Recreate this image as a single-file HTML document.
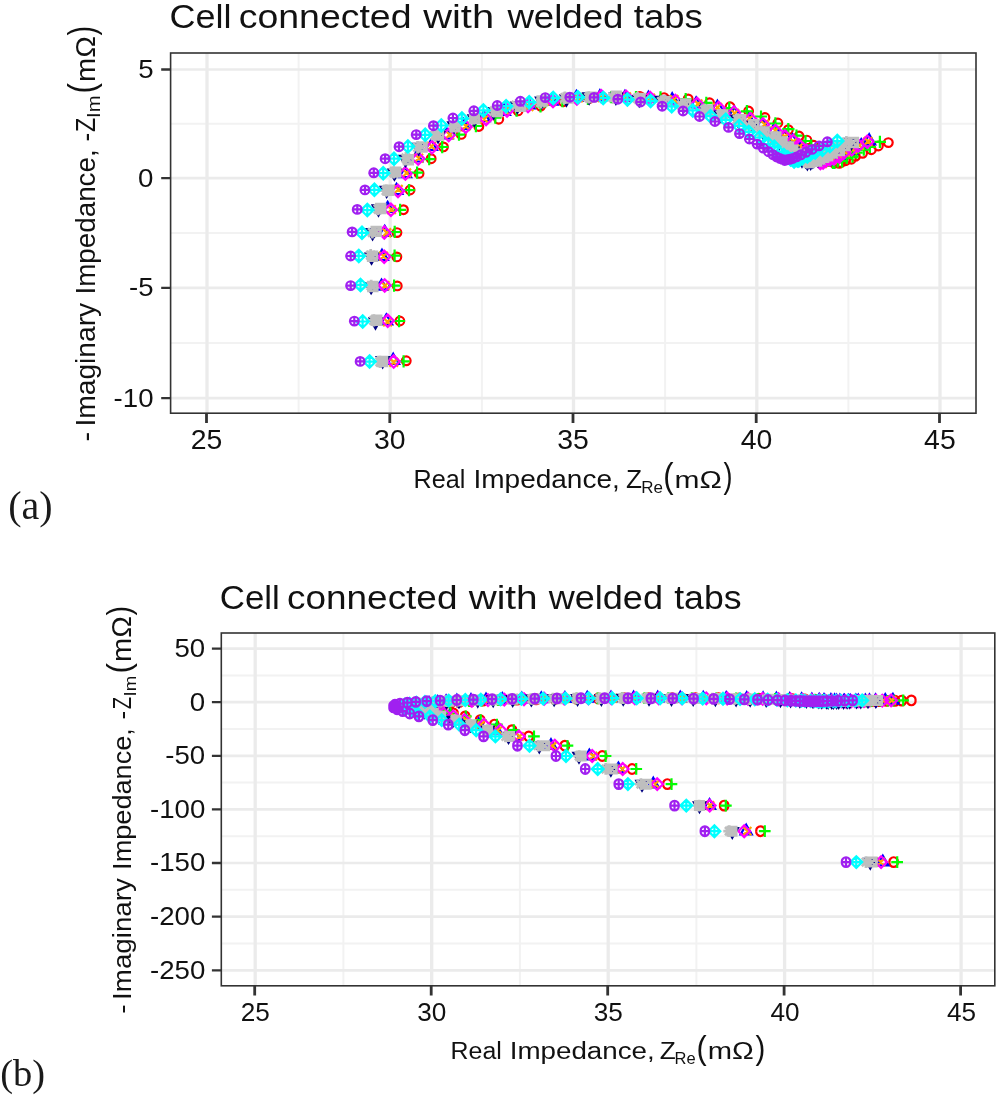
<!DOCTYPE html>
<html lang="en"><head><meta charset="utf-8"><title>Cell connected with welded tabs</title>
<style>html,body{margin:0;padding:0;background:#fff}svg{display:block}text{font-family:"Liberation Sans",sans-serif;fill:#111}text.serif{font-family:"Liberation Serif",serif;fill:#1a1a1a}</style></head><body>
<svg width="997" height="1095" viewBox="0 0 997 1095">
<rect width="997" height="1095" fill="#fff"/>
<g id="chart-a">
<rect x="170.6" y="53" width="805.4" height="360.2" fill="#fff"/>
<path d="M298.6 53V413.2M481.9 53V413.2M665.1 53V413.2M848.4 53V413.2M170.6 123.8H976M170.6 233H976M170.6 343H976" stroke="#f2f2f2" stroke-width="2" fill="none"/>
<path d="M207 53V413.2M390.2 53V413.2M573.5 53V413.2M756.8 53V413.2M940 53V413.2" stroke="#ebebeb" stroke-width="3.3" fill="none"/>
<path d="M170.6 69.5H976M170.6 178.1H976M170.6 287.8H976M170.6 398.2H976" stroke="#ebebeb" stroke-width="2.7" fill="none"/>
<path d="M401.9 360.8a4.3 4.3 0 1 0 8.7 0a4.3 4.3 0 1 0 -8.7 0M395.5 321a4.3 4.3 0 1 0 8.7 0a4.3 4.3 0 1 0 -8.7 0M392.9 285.9a4.3 4.3 0 1 0 8.7 0a4.3 4.3 0 1 0 -8.7 0M392.5 256.9a4.3 4.3 0 1 0 8.7 0a4.3 4.3 0 1 0 -8.7 0M392.6 232.6a4.3 4.3 0 1 0 8.7 0a4.3 4.3 0 1 0 -8.7 0M399.1 209.7a4.3 4.3 0 1 0 8.7 0a4.3 4.3 0 1 0 -8.7 0M405.7 190a4.3 4.3 0 1 0 8.7 0a4.3 4.3 0 1 0 -8.7 0M414.7 173.4a4.3 4.3 0 1 0 8.7 0a4.3 4.3 0 1 0 -8.7 0M426.8 158.7a4.3 4.3 0 1 0 8.7 0a4.3 4.3 0 1 0 -8.7 0M439.1 146.9a4.3 4.3 0 1 0 8.7 0a4.3 4.3 0 1 0 -8.7 0M456.9 134.4a4.3 4.3 0 1 0 8.7 0a4.3 4.3 0 1 0 -8.7 0M474.5 126.5a4.3 4.3 0 1 0 8.7 0a4.3 4.3 0 1 0 -8.7 0M494.4 119.2a4.3 4.3 0 1 0 8.7 0a4.3 4.3 0 1 0 -8.7 0M513.7 110.9a4.3 4.3 0 1 0 8.7 0a4.3 4.3 0 1 0 -8.7 0M536.3 106.1a4.3 4.3 0 1 0 8.7 0a4.3 4.3 0 1 0 -8.7 0M559 101.7a4.3 4.3 0 1 0 8.7 0a4.3 4.3 0 1 0 -8.7 0M585.6 98.2a4.3 4.3 0 1 0 8.7 0a4.3 4.3 0 1 0 -8.7 0M611.1 97.4a4.3 4.3 0 1 0 8.7 0a4.3 4.3 0 1 0 -8.7 0M635.5 96.4a4.3 4.3 0 1 0 8.7 0a4.3 4.3 0 1 0 -8.7 0M659.7 97.6a4.3 4.3 0 1 0 8.7 0a4.3 4.3 0 1 0 -8.7 0M683.8 98.9a4.3 4.3 0 1 0 8.7 0a4.3 4.3 0 1 0 -8.7 0M705.2 102.8a4.3 4.3 0 1 0 8.7 0a4.3 4.3 0 1 0 -8.7 0M725.7 106.8a4.3 4.3 0 1 0 8.7 0a4.3 4.3 0 1 0 -8.7 0M744.3 111a4.3 4.3 0 1 0 8.7 0a4.3 4.3 0 1 0 -8.7 0M760.6 117.5a4.3 4.3 0 1 0 8.7 0a4.3 4.3 0 1 0 -8.7 0M773.5 123a4.3 4.3 0 1 0 8.7 0a4.3 4.3 0 1 0 -8.7 0M784 129.7a4.3 4.3 0 1 0 8.7 0a4.3 4.3 0 1 0 -8.7 0M794.7 136a4.3 4.3 0 1 0 8.7 0a4.3 4.3 0 1 0 -8.7 0M802.5 140.1a4.3 4.3 0 1 0 8.7 0a4.3 4.3 0 1 0 -8.7 0M809.3 145.3a4.3 4.3 0 1 0 8.7 0a4.3 4.3 0 1 0 -8.7 0M814.9 148.8a4.3 4.3 0 1 0 8.7 0a4.3 4.3 0 1 0 -8.7 0M818.3 153.6a4.3 4.3 0 1 0 8.7 0a4.3 4.3 0 1 0 -8.7 0M823 156.4a4.3 4.3 0 1 0 8.7 0a4.3 4.3 0 1 0 -8.7 0M826.6 159a4.3 4.3 0 1 0 8.7 0a4.3 4.3 0 1 0 -8.7 0M827.7 161.7a4.3 4.3 0 1 0 8.7 0a4.3 4.3 0 1 0 -8.7 0M829.9 163.1a4.3 4.3 0 1 0 8.7 0a4.3 4.3 0 1 0 -8.7 0M834.9 163.3a4.3 4.3 0 1 0 8.7 0a4.3 4.3 0 1 0 -8.7 0M836.8 162.4a4.3 4.3 0 1 0 8.7 0a4.3 4.3 0 1 0 -8.7 0M841.2 160.7a4.3 4.3 0 1 0 8.7 0a4.3 4.3 0 1 0 -8.7 0M847 159.2a4.3 4.3 0 1 0 8.7 0a4.3 4.3 0 1 0 -8.7 0M851 156.4a4.3 4.3 0 1 0 8.7 0a4.3 4.3 0 1 0 -8.7 0M858.2 153.3a4.3 4.3 0 1 0 8.7 0a4.3 4.3 0 1 0 -8.7 0M866.9 149.7a4.3 4.3 0 1 0 8.7 0a4.3 4.3 0 1 0 -8.7 0M874 146a4.3 4.3 0 1 0 8.7 0a4.3 4.3 0 1 0 -8.7 0M884 142.6a4.3 4.3 0 1 0 8.7 0a4.3 4.3 0 1 0 -8.7 0" stroke="#ff0000" stroke-width="2.2" fill="none"/>
<path d="M393.2 353.8l5.9 10.1h-11.7zM386.3 314.4l5.9 10.1h-11.7zM381.5 279.6l5.9 10.1h-11.7zM382 249.7l5.9 10.1h-11.7zM384.7 225.9l5.9 10.1h-11.7zM387.6 201.9l5.9 10.1h-11.7zM396.5 183.9l5.9 10.1h-11.7zM405.2 167l5.9 10.1h-11.7zM416.4 151.4l5.9 10.1h-11.7zM431.1 139.8l5.9 10.1h-11.7zM446.7 128.4l5.9 10.1h-11.7zM463.5 118.7l5.9 10.1h-11.7zM483.8 111.1l5.9 10.1h-11.7zM504.1 104.9l5.9 10.1h-11.7zM528.6 98.3l5.9 10.1h-11.7zM551.7 94.5l5.9 10.1h-11.7zM576.4 90.9l5.9 10.1h-11.7zM599.9 90.3l5.9 10.1h-11.7zM624.9 90.9l5.9 10.1h-11.7zM648.4 91.7l5.9 10.1h-11.7zM672.2 93.3l5.9 10.1h-11.7zM696.1 97.4l5.9 10.1h-11.7zM717.4 100.7l5.9 10.1h-11.7zM734.4 106.8l5.9 10.1h-11.7zM748.2 112.2l5.9 10.1h-11.7zM762 118.3l5.9 10.1h-11.7zM774.4 123.4l5.9 10.1h-11.7zM785.1 129.7l5.9 10.1h-11.7zM792.6 134.4l5.9 10.1h-11.7zM797.6 138.8l5.9 10.1h-11.7zM804.8 142.9l5.9 10.1h-11.7zM808.6 147.2l5.9 10.1h-11.7zM810.7 149.8l5.9 10.1h-11.7zM814.1 152l5.9 10.1h-11.7zM818.3 154.3l5.9 10.1h-11.7zM818.9 155.2l5.9 10.1h-11.7zM822.9 155.6l5.9 10.1h-11.7zM824.8 154.9l5.9 10.1h-11.7zM830.7 152.7l5.9 10.1h-11.7zM833.3 150.9l5.9 10.1h-11.7zM840.5 148.8l5.9 10.1h-11.7zM844.9 146.2l5.9 10.1h-11.7zM851.2 143.9l5.9 10.1h-11.7zM861.2 139.1l5.9 10.1h-11.7zM869.2 134.3l5.9 10.1h-11.7z" stroke="#0000ff" stroke-width="2.2" fill="none"/>
<path d="M397.4 361.4h12.3M403.6 355.3v12.3M392.8 321h12.3M399 314.9v12.3M388 285.6h12.3M394.1 279.5v12.3M388.4 255.6h12.3M394.6 249.5v12.3M388.6 232h12.3M394.7 225.8v12.3M393.9 209.9h12.3M400.1 203.8v12.3M402.8 190.1h12.3M409 183.9v12.3M410.9 172.6h12.3M417.1 166.4v12.3M423 159.2h12.3M429.2 153v12.3M436 147h12.3M442.2 140.9v12.3M452.8 134.7h12.3M459 128.5v12.3M469.8 126h12.3M475.9 119.9v12.3M489.1 117.7h12.3M495.3 111.5v12.3M510.4 110.6h12.3M516.6 104.5v12.3M534.3 106.5h12.3M540.5 100.3v12.3M556.3 101.2h12.3M562.4 95v12.3M581.8 98.9h12.3M587.9 92.7v12.3M605.1 97.2h12.3M611.3 91v12.3M629.8 97.1h12.3M636 90.9v12.3M654.3 97.3h12.3M660.5 91.2v12.3M679.5 99.1h12.3M685.7 92.9v12.3M700.2 102.8h12.3M706.3 96.7v12.3M723 108h12.3M729.2 101.8v12.3M740.7 111.3h12.3M746.9 105.1v12.3M754.8 116.5h12.3M761 110.4v12.3M769.2 123.5h12.3M775.4 117.3v12.3M782.2 129.2h12.3M788.3 123.1v12.3M790.3 135.6h12.3M796.5 129.5v12.3M799.3 141h12.3M805.5 134.9v12.3M805.1 145.3h12.3M811.3 139.2v12.3M811.4 150.4h12.3M817.6 144.3v12.3M815.2 153.7h12.3M821.4 147.6v12.3M817.3 157.3h12.3M823.5 151.2v12.3M821.8 159.5h12.3M828 153.4v12.3M822.8 160.6h12.3M829 154.4v12.3M826.7 162.8h12.3M832.9 156.6v12.3M828.2 162.9h12.3M834.4 156.8v12.3M831.5 161.2h12.3M837.7 155.1v12.3M835.9 161.2h12.3M842.1 155.1v12.3M840.6 157.9h12.3M846.7 151.7v12.3M846.4 156.6h12.3M852.5 150.4v12.3M850.2 152.6h12.3M856.4 146.4v12.3M857.7 149.6h12.3M863.8 143.5v12.3M863.7 147h12.3M869.9 140.8v12.3M873.7 141.9h12.3M879.9 135.8v12.3" stroke="#00ff00" stroke-width="2.2" fill="none"/>
<path d="M389.4 357.9l8.7 8.7M389.4 366.6l8.7 -8.7M383.2 317.6l8.7 8.7M383.2 326.3l8.7 -8.7M380.7 281.2l8.7 8.7M380.7 289.9l8.7 -8.7M379.1 251.8l8.7 8.7M379.1 260.5l8.7 -8.7M382.4 228.4l8.7 8.7M382.4 237.1l8.7 -8.7M387.1 205.3l8.7 8.7M387.1 214l8.7 -8.7M393.9 185.1l8.7 8.7M393.9 193.8l8.7 -8.7M402.3 168.6l8.7 8.7M402.3 177.3l8.7 -8.7M414.3 153.8l8.7 8.7M414.3 162.5l8.7 -8.7M427.2 142l8.7 8.7M427.2 150.7l8.7 -8.7M445.3 130.4l8.7 8.7M445.3 139.1l8.7 -8.7M461.6 121.9l8.7 8.7M461.6 130.6l8.7 -8.7M480 114.7l8.7 8.7M480 123.4l8.7 -8.7M500.8 106.4l8.7 8.7M500.8 115.1l8.7 -8.7M524.6 102.2l8.7 8.7M524.6 110.9l8.7 -8.7M547.2 96.9l8.7 8.7M547.2 105.6l8.7 -8.7M574 93.5l8.7 8.7M574 102.2l8.7 -8.7M597.5 93.2l8.7 8.7M597.5 101.9l8.7 -8.7M622.2 92.5l8.7 8.7M622.2 101.2l8.7 -8.7M646.2 93.7l8.7 8.7M646.2 102.4l8.7 -8.7M669.7 95.1l8.7 8.7M669.7 103.8l8.7 -8.7M693.6 99.5l8.7 8.7M693.6 108.2l8.7 -8.7M713.2 103l8.7 8.7M713.2 111.7l8.7 -8.7M730.3 109l8.7 8.7M730.3 117.7l8.7 -8.7M745.2 114.2l8.7 8.7M745.2 122.9l8.7 -8.7M760.3 120l8.7 8.7M760.3 128.7l8.7 -8.7M770.9 126.3l8.7 8.7M770.9 135l8.7 -8.7M780.6 132.4l8.7 8.7M780.6 141.1l8.7 -8.7M788.9 137.3l8.7 8.7M788.9 146l8.7 -8.7M795.2 142.2l8.7 8.7M795.2 150.9l8.7 -8.7M800.9 146.2l8.7 8.7M800.9 154.9l8.7 -8.7M805.9 149.5l8.7 8.7M805.9 158.2l8.7 -8.7M809.9 152.4l8.7 8.7M809.9 161.1l8.7 -8.7M812.8 154.3l8.7 8.7M812.8 163l8.7 -8.7M814.4 156.9l8.7 8.7M814.4 165.6l8.7 -8.7M818.1 159.2l8.7 8.7M818.1 167.9l8.7 -8.7M820.4 157.3l8.7 8.7M820.4 166l8.7 -8.7M822 156.2l8.7 8.7M822 164.9l8.7 -8.7M827.8 155.5l8.7 8.7M827.8 164.2l8.7 -8.7M831.6 153.3l8.7 8.7M831.6 162l8.7 -8.7M834.8 151.5l8.7 8.7M834.8 160.2l8.7 -8.7M841.2 148.1l8.7 8.7M841.2 156.8l8.7 -8.7M848.3 144.9l8.7 8.7M848.3 153.6l8.7 -8.7M855 141.1l8.7 8.7M855 149.8l8.7 -8.7M863.7 137.1l8.7 8.7M863.7 145.8l8.7 -8.7" stroke="#ffa500" stroke-width="2.2" fill="none"/>
<path d="M387.5 361.6l6.2 -6.2l6.2 6.2l-6.2 6.2zM381.5 320.8l6.2 -6.2l6.2 6.2l-6.2 6.2zM378.5 285.4l6.2 -6.2l6.2 6.2l-6.2 6.2zM378 256.8l6.2 -6.2l6.2 6.2l-6.2 6.2zM378.1 232.5l6.2 -6.2l6.2 6.2l-6.2 6.2zM384.7 209.8l6.2 -6.2l6.2 6.2l-6.2 6.2zM391.8 190.9l6.2 -6.2l6.2 6.2l-6.2 6.2zM399.2 173.4l6.2 -6.2l6.2 6.2l-6.2 6.2zM412 158.6l6.2 -6.2l6.2 6.2l-6.2 6.2zM425.8 147.3l6.2 -6.2l6.2 6.2l-6.2 6.2zM442.5 135l6.2 -6.2l6.2 6.2l-6.2 6.2zM459.5 126.7l6.2 -6.2l6.2 6.2l-6.2 6.2zM479.9 118.9l6.2 -6.2l6.2 6.2l-6.2 6.2zM500.9 110.4l6.2 -6.2l6.2 6.2l-6.2 6.2zM521.8 106l6.2 -6.2l6.2 6.2l-6.2 6.2zM546.8 101l6.2 -6.2l6.2 6.2l-6.2 6.2zM570.7 98.5l6.2 -6.2l6.2 6.2l-6.2 6.2zM595.1 96.3l6.2 -6.2l6.2 6.2l-6.2 6.2zM619.8 96.7l6.2 -6.2l6.2 6.2l-6.2 6.2zM643.9 98l6.2 -6.2l6.2 6.2l-6.2 6.2zM669.2 101l6.2 -6.2l6.2 6.2l-6.2 6.2zM691 103.9l6.2 -6.2l6.2 6.2l-6.2 6.2zM712.5 107.9l6.2 -6.2l6.2 6.2l-6.2 6.2zM727.8 112.5l6.2 -6.2l6.2 6.2l-6.2 6.2zM744.2 119.2l6.2 -6.2l6.2 6.2l-6.2 6.2zM756.8 124.4l6.2 -6.2l6.2 6.2l-6.2 6.2zM769.3 131.1l6.2 -6.2l6.2 6.2l-6.2 6.2zM778.7 136.6l6.2 -6.2l6.2 6.2l-6.2 6.2zM787.1 140.9l6.2 -6.2l6.2 6.2l-6.2 6.2zM792.8 145.3l6.2 -6.2l6.2 6.2l-6.2 6.2zM800 150.8l6.2 -6.2l6.2 6.2l-6.2 6.2zM804.5 153.5l6.2 -6.2l6.2 6.2l-6.2 6.2zM807.9 157.4l6.2 -6.2l6.2 6.2l-6.2 6.2zM809.6 159.5l6.2 -6.2l6.2 6.2l-6.2 6.2zM813.7 160.8l6.2 -6.2l6.2 6.2l-6.2 6.2zM814.2 163l6.2 -6.2l6.2 6.2l-6.2 6.2zM816.9 162.6l6.2 -6.2l6.2 6.2l-6.2 6.2zM819.7 160.6l6.2 -6.2l6.2 6.2l-6.2 6.2zM823.8 159.3l6.2 -6.2l6.2 6.2l-6.2 6.2zM827.7 158.6l6.2 -6.2l6.2 6.2l-6.2 6.2zM833 156.4l6.2 -6.2l6.2 6.2l-6.2 6.2zM838 152.3l6.2 -6.2l6.2 6.2l-6.2 6.2zM845.5 149.3l6.2 -6.2l6.2 6.2l-6.2 6.2zM852 145.4l6.2 -6.2l6.2 6.2l-6.2 6.2zM861.1 141.7l6.2 -6.2l6.2 6.2l-6.2 6.2z" stroke="#ff00ff" stroke-width="2.2" fill="none"/>
<path d="M382.7 367.3l5.9 -10.1h-11.7zM375.5 328.5l5.9 -10.1h-11.7zM371.1 293.1l5.9 -10.1h-11.7zM371.5 263.6l5.9 -10.1h-11.7zM372.6 239.2l5.9 -10.1h-11.7zM378.5 215.5l5.9 -10.1h-11.7zM386.6 196.9l5.9 -10.1h-11.7zM394.4 179.6l5.9 -10.1h-11.7zM405.6 165.9l5.9 -10.1h-11.7zM418.7 154l5.9 -10.1h-11.7zM438.1 142.3l5.9 -10.1h-11.7zM454.1 132.4l5.9 -10.1h-11.7zM474.4 125.5l5.9 -10.1h-11.7zM493.7 118.2l5.9 -10.1h-11.7zM517.4 112.6l5.9 -10.1h-11.7zM541.8 107.8l5.9 -10.1h-11.7zM566.5 105.5l5.9 -10.1h-11.7zM589.2 103.5l5.9 -10.1h-11.7zM615.9 103.8l5.9 -10.1h-11.7zM639.2 106.1l5.9 -10.1h-11.7zM661.8 106.9l5.9 -10.1h-11.7zM684.8 110.9l5.9 -10.1h-11.7zM706.4 116.4l5.9 -10.1h-11.7zM721 121.7l5.9 -10.1h-11.7zM737.6 125.9l5.9 -10.1h-11.7zM752.5 131.9l5.9 -10.1h-11.7zM762.9 138l5.9 -10.1h-11.7zM772.5 144l5.9 -10.1h-11.7zM779.3 148.7l5.9 -10.1h-11.7zM786.2 152.6l5.9 -10.1h-11.7zM792.4 157.8l5.9 -10.1h-11.7zM795.4 161.4l5.9 -10.1h-11.7zM800.3 163.4l5.9 -10.1h-11.7zM802 166.5l5.9 -10.1h-11.7zM805.6 167l5.9 -10.1h-11.7zM807.4 169.3l5.9 -10.1h-11.7zM810.7 168.7l5.9 -10.1h-11.7zM812.9 167.3l5.9 -10.1h-11.7zM818 166l5.9 -10.1h-11.7zM821.6 164.5l5.9 -10.1h-11.7zM824.4 162.7l5.9 -10.1h-11.7zM831.5 159.2l5.9 -10.1h-11.7zM835.9 157.3l5.9 -10.1h-11.7zM843.4 152.5l5.9 -10.1h-11.7zM851.4 149l5.9 -10.1h-11.7z" stroke="#000080" stroke-width="2.2" fill="none"/>
<path d="M378.2 357.2h8.7v8.7h-8.7zl8.7 8.7M378.2 365.9l8.7 -8.7M372.4 315.9h8.7v8.7h-8.7zl8.7 8.7M372.4 324.6l8.7 -8.7M368.5 282.1h8.7v8.7h-8.7zl8.7 8.7M368.5 290.8l8.7 -8.7M368.2 251.9h8.7v8.7h-8.7zl8.7 8.7M368.2 260.6l8.7 -8.7M371.8 227h8.7v8.7h-8.7zl8.7 8.7M371.8 235.7l8.7 -8.7M376.4 204.2h8.7v8.7h-8.7zl8.7 8.7M376.4 212.9l8.7 -8.7M384.5 185.9h8.7v8.7h-8.7zl8.7 8.7M384.5 194.6l8.7 -8.7M391.3 167.8h8.7v8.7h-8.7zl8.7 8.7M391.3 176.5l8.7 -8.7M404 155.4h8.7v8.7h-8.7zl8.7 8.7M404 164.1l8.7 -8.7M417.7 142.7h8.7v8.7h-8.7zl8.7 8.7M417.7 151.4l8.7 -8.7M434.1 130.8h8.7v8.7h-8.7zl8.7 8.7M434.1 139.5l8.7 -8.7M450.7 122.4h8.7v8.7h-8.7zl8.7 8.7M450.7 131.1l8.7 -8.7M470.3 114.2h8.7v8.7h-8.7zl8.7 8.7M470.3 122.9l8.7 -8.7M492.9 107.3h8.7v8.7h-8.7zl8.7 8.7M492.9 116l8.7 -8.7M516.3 102h8.7v8.7h-8.7zl8.7 8.7M516.3 110.7l8.7 -8.7M537.7 96.7h8.7v8.7h-8.7zl8.7 8.7M537.7 105.4l8.7 -8.7M563.7 93.7h8.7v8.7h-8.7zl8.7 8.7M563.7 102.4l8.7 -8.7M586.7 92.8h8.7v8.7h-8.7zl8.7 8.7M586.7 101.5l8.7 -8.7M612 91.9h8.7v8.7h-8.7zl8.7 8.7M612 100.6l8.7 -8.7M635.7 94.2h8.7v8.7h-8.7zl8.7 8.7M635.7 102.9l8.7 -8.7M660.6 97.3h8.7v8.7h-8.7zl8.7 8.7M660.6 106l8.7 -8.7M681.3 99.7h8.7v8.7h-8.7zl8.7 8.7M681.3 108.4l8.7 -8.7M703.4 105.5h8.7v8.7h-8.7zl8.7 8.7M703.4 114.2l8.7 -8.7M718.4 110.6h8.7v8.7h-8.7zl8.7 8.7M718.4 119.3l8.7 -8.7M736.3 115.4h8.7v8.7h-8.7zl8.7 8.7M736.3 124.1l8.7 -8.7M749.6 120.3h8.7v8.7h-8.7zl8.7 8.7M749.6 129l8.7 -8.7M759.8 127.6h8.7v8.7h-8.7zl8.7 8.7M759.8 136.3l8.7 -8.7M771.5 132.6h8.7v8.7h-8.7zl8.7 8.7M771.5 141.3l8.7 -8.7M777.6 137.6h8.7v8.7h-8.7zl8.7 8.7M777.6 146.3l8.7 -8.7M784.1 142.5h8.7v8.7h-8.7zl8.7 8.7M784.1 151.2l8.7 -8.7M788.4 145.8h8.7v8.7h-8.7zl8.7 8.7M788.4 154.5l8.7 -8.7M795.1 149.5h8.7v8.7h-8.7zl8.7 8.7M795.1 158.2l8.7 -8.7M798.7 153.5h8.7v8.7h-8.7zl8.7 8.7M798.7 162.2l8.7 -8.7M800 154.8h8.7v8.7h-8.7zl8.7 8.7M800 163.5l8.7 -8.7M804.4 155.3h8.7v8.7h-8.7zl8.7 8.7M804.4 164l8.7 -8.7M805.1 158.2h8.7v8.7h-8.7zl8.7 8.7M805.1 166.9l8.7 -8.7M808 156.9h8.7v8.7h-8.7zl8.7 8.7M808 165.6l8.7 -8.7M812.3 156.8h8.7v8.7h-8.7zl8.7 8.7M812.3 165.5l8.7 -8.7M815.4 154.8h8.7v8.7h-8.7zl8.7 8.7M815.4 163.5l8.7 -8.7M819.3 153h8.7v8.7h-8.7zl8.7 8.7M819.3 161.7l8.7 -8.7M823.2 151.5h8.7v8.7h-8.7zl8.7 8.7M823.2 160.2l8.7 -8.7M827.8 148.7h8.7v8.7h-8.7zl8.7 8.7M827.8 157.4l8.7 -8.7M835 146.1h8.7v8.7h-8.7zl8.7 8.7M835 154.8l8.7 -8.7M840.6 141.3h8.7v8.7h-8.7zl8.7 8.7M840.6 150l8.7 -8.7M849 138.2h8.7v8.7h-8.7zl8.7 8.7M849 146.9l8.7 -8.7" stroke="#bebebe" stroke-width="2.7" fill="none"/>
<path d="M375.7 357.5l8.7 8.7M375.7 366.2l8.7 -8.7M373.9 361.8h12.3M380 355.7v12.3M369.5 316.1l8.7 8.7M369.5 324.8l8.7 -8.7M367.7 320.4h12.3M373.9 314.3v12.3M366.9 281.6l8.7 8.7M366.9 290.3l8.7 -8.7M365.1 285.9h12.3M371.2 279.8v12.3M366.3 250.9l8.7 8.7M366.3 259.6l8.7 -8.7M364.5 255.2h12.3M370.7 249.1v12.3M368 228.1l8.7 8.7M368 236.8l8.7 -8.7M366.2 232.5h12.3M372.4 226.3v12.3M373.8 204.8l8.7 8.7M373.8 213.5l8.7 -8.7M372 209.2h12.3M378.2 203v12.3M381.9 186.3l8.7 8.7M381.9 195l8.7 -8.7M380.1 190.7h12.3M386.3 184.5v12.3M389.3 168l8.7 8.7M389.3 176.7l8.7 -8.7M387.5 172.3h12.3M393.7 166.2v12.3M401.6 153.8l8.7 8.7M401.6 162.5l8.7 -8.7M399.8 158.2h12.3M405.9 152v12.3M413.4 142.9l8.7 8.7M413.4 151.6l8.7 -8.7M411.6 147.2h12.3M417.7 141.1v12.3M430.7 131l8.7 8.7M430.7 139.7l8.7 -8.7M428.9 135.4h12.3M435.1 129.2v12.3M450.1 121.4l8.7 8.7M450.1 130.1l8.7 -8.7M448.3 125.7h12.3M454.4 119.6v12.3M469.3 114.1l8.7 8.7M469.3 122.8l8.7 -8.7M467.5 118.4h12.3M473.7 112.3v12.3M490 106.7l8.7 8.7M490 115.4l8.7 -8.7M488.2 111.1h12.3M494.3 104.9v12.3M511.8 100.9l8.7 8.7M511.8 109.6l8.7 -8.7M510 105.3h12.3M516.1 99.1v12.3M536.6 98l8.7 8.7M536.6 106.7l8.7 -8.7M534.8 102.3h12.3M540.9 96.2v12.3M560.5 93.4l8.7 8.7M560.5 102.1l8.7 -8.7M558.7 97.7h12.3M564.9 91.6v12.3M584.4 93l8.7 8.7M584.4 101.7l8.7 -8.7M582.6 97.4h12.3M588.8 91.2v12.3M608.7 93.2l8.7 8.7M608.7 101.9l8.7 -8.7M606.9 97.6h12.3M613.1 91.4v12.3M633.1 93.9l8.7 8.7M633.1 102.6l8.7 -8.7M631.3 98.3h12.3M637.5 92.1v12.3M657.2 97.1l8.7 8.7M657.2 105.8l8.7 -8.7M655.4 101.5h12.3M661.5 95.3v12.3M677.4 100.8l8.7 8.7M677.4 109.5l8.7 -8.7M675.6 105.1h12.3M681.8 99v12.3M700.3 105.5l8.7 8.7M700.3 114.2l8.7 -8.7M698.5 109.8h12.3M704.7 103.7v12.3M716.2 110.6l8.7 8.7M716.2 119.3l8.7 -8.7M714.4 115h12.3M720.5 108.8v12.3M733 115.1l8.7 8.7M733 123.8l8.7 -8.7M731.2 119.5h12.3M737.4 113.3v12.3M744.9 121.9l8.7 8.7M744.9 130.6l8.7 -8.7M743.1 126.3h12.3M749.2 120.1v12.3M756.9 127.4l8.7 8.7M756.9 136.1l8.7 -8.7M755.1 131.7h12.3M761.3 125.6v12.3M767.6 133.8l8.7 8.7M767.6 142.5l8.7 -8.7M765.8 138.1h12.3M772 132v12.3M774.3 137.8l8.7 8.7M774.3 146.5l8.7 -8.7M772.5 142.2h12.3M778.6 136v12.3M781.3 142.7l8.7 8.7M781.3 151.4l8.7 -8.7M779.5 147.1h12.3M785.6 140.9v12.3M786.1 145.6l8.7 8.7M786.1 154.3l8.7 -8.7M784.3 149.9h12.3M790.5 143.8v12.3M790.5 149.7l8.7 8.7M790.5 158.4l8.7 -8.7M788.7 154.1h12.3M794.8 147.9v12.3M794.2 152.8l8.7 8.7M794.2 161.5l8.7 -8.7M792.4 157.2h12.3M798.5 151v12.3M798.5 153.8l8.7 8.7M798.5 162.5l8.7 -8.7M796.7 158.1h12.3M802.9 152v12.3M799.8 156.5l8.7 8.7M799.8 165.2l8.7 -8.7M798 160.9h12.3M804.2 154.7v12.3M803 158.1l8.7 8.7M803 166.8l8.7 -8.7M801.2 162.5h12.3M807.3 156.3v12.3M803.7 156l8.7 8.7M803.7 164.7l8.7 -8.7M801.9 160.3h12.3M808.1 154.2v12.3M807.6 155.5l8.7 8.7M807.6 164.2l8.7 -8.7M805.8 159.9h12.3M811.9 153.7v12.3M810.6 154.4l8.7 8.7M810.6 163.1l8.7 -8.7M808.8 158.8h12.3M815 152.6v12.3M814.3 153.9l8.7 8.7M814.3 162.6l8.7 -8.7M812.5 158.3h12.3M818.7 152.1v12.3M817.2 151l8.7 8.7M817.2 159.7l8.7 -8.7M815.4 155.3h12.3M821.6 149.2v12.3M823.6 147.7l8.7 8.7M823.6 156.4l8.7 -8.7M821.8 152h12.3M828 145.9v12.3M827.8 145.1l8.7 8.7M827.8 153.8l8.7 -8.7M826 149.4h12.3M832.1 143.3v12.3M835 141.7l8.7 8.7M835 150.4l8.7 -8.7M833.2 146h12.3M839.4 139.9v12.3M842.1 137.8l8.7 8.7M842.1 146.5l8.7 -8.7M840.3 142.2h12.3M846.4 136v12.3" stroke="#bebebe" stroke-width="2.7" fill="none"/>
<path d="M363.4 361.6l6.2 -6.2l6.2 6.2l-6.2 6.2zh12.3M369.6 355.4v12.3M356.5 321.5l6.2 -6.2l6.2 6.2l-6.2 6.2zh12.3M362.6 315.4v12.3M354.3 284.9l6.2 -6.2l6.2 6.2l-6.2 6.2zh12.3M360.5 278.8v12.3M352.6 255.9l6.2 -6.2l6.2 6.2l-6.2 6.2zh12.3M358.7 249.8v12.3M355.8 232.8l6.2 -6.2l6.2 6.2l-6.2 6.2zh12.3M362 226.6v12.3M361.1 210.1l6.2 -6.2l6.2 6.2l-6.2 6.2zh12.3M367.3 203.9v12.3M368.2 189.8l6.2 -6.2l6.2 6.2l-6.2 6.2zh12.3M374.3 183.7v12.3M377 173.2l6.2 -6.2l6.2 6.2l-6.2 6.2zh12.3M383.2 167v12.3M387.8 158.7l6.2 -6.2l6.2 6.2l-6.2 6.2zh12.3M394 152.5v12.3M401.7 146.5l6.2 -6.2l6.2 6.2l-6.2 6.2zh12.3M407.9 140.3v12.3M419 134.8l6.2 -6.2l6.2 6.2l-6.2 6.2zh12.3M425.1 128.7v12.3M435.1 125.5l6.2 -6.2l6.2 6.2l-6.2 6.2zh12.3M441.2 119.4v12.3M455.7 118.6l6.2 -6.2l6.2 6.2l-6.2 6.2zh12.3M461.8 112.4v12.3M477.2 110.4l6.2 -6.2l6.2 6.2l-6.2 6.2zh12.3M483.4 104.2v12.3M499.9 106.2l6.2 -6.2l6.2 6.2l-6.2 6.2zh12.3M506 100v12.3M523 102.2l6.2 -6.2l6.2 6.2l-6.2 6.2zh12.3M529.1 96v12.3M547 97.9l6.2 -6.2l6.2 6.2l-6.2 6.2zh12.3M553.1 91.7v12.3M571.6 97.3l6.2 -6.2l6.2 6.2l-6.2 6.2zh12.3M577.7 91.1v12.3M597 98l6.2 -6.2l6.2 6.2l-6.2 6.2zh12.3M603.1 91.9v12.3M621.2 99.6l6.2 -6.2l6.2 6.2l-6.2 6.2zh12.3M627.4 93.4v12.3M644.4 101.1l6.2 -6.2l6.2 6.2l-6.2 6.2zh12.3M650.5 94.9v12.3M665.5 106.3l6.2 -6.2l6.2 6.2l-6.2 6.2zh12.3M671.7 100.2v12.3M686.6 110.4l6.2 -6.2l6.2 6.2l-6.2 6.2zh12.3M692.7 104.3v12.3M704.3 116.2l6.2 -6.2l6.2 6.2l-6.2 6.2zh12.3M710.5 110v12.3M719.6 119.8l6.2 -6.2l6.2 6.2l-6.2 6.2zh12.3M725.7 113.6v12.3M732.9 126l6.2 -6.2l6.2 6.2l-6.2 6.2zh12.3M739 119.9v12.3M742.6 131.9l6.2 -6.2l6.2 6.2l-6.2 6.2zh12.3M748.7 125.8v12.3M753.3 137.5l6.2 -6.2l6.2 6.2l-6.2 6.2zh12.3M759.5 131.3v12.3M762.2 144l6.2 -6.2l6.2 6.2l-6.2 6.2zh12.3M768.4 137.8v12.3M768.1 146.7l6.2 -6.2l6.2 6.2l-6.2 6.2zh12.3M774.3 140.6v12.3M771.5 151.5l6.2 -6.2l6.2 6.2l-6.2 6.2zh12.3M777.6 145.3v12.3M777.6 155l6.2 -6.2l6.2 6.2l-6.2 6.2zh12.3M783.8 148.9v12.3M781.6 157.4l6.2 -6.2l6.2 6.2l-6.2 6.2zh12.3M787.8 151.3v12.3M784.5 159.4l6.2 -6.2l6.2 6.2l-6.2 6.2zh12.3M790.7 153.2v12.3M786.4 159.1l6.2 -6.2l6.2 6.2l-6.2 6.2zh12.3M792.5 152.9v12.3M787.9 161.6l6.2 -6.2l6.2 6.2l-6.2 6.2zh12.3M794 155.4v12.3M791.1 160.6l6.2 -6.2l6.2 6.2l-6.2 6.2zh12.3M797.2 154.5v12.3M792.6 160.4l6.2 -6.2l6.2 6.2l-6.2 6.2zh12.3M798.8 154.2v12.3M796.1 158.2l6.2 -6.2l6.2 6.2l-6.2 6.2zh12.3M802.3 152v12.3M801.1 156.6l6.2 -6.2l6.2 6.2l-6.2 6.2zh12.3M807.3 150.4v12.3M804.1 154.6l6.2 -6.2l6.2 6.2l-6.2 6.2zh12.3M810.2 148.5v12.3M809 152.5l6.2 -6.2l6.2 6.2l-6.2 6.2zh12.3M815.1 146.3v12.3M816.2 149.7l6.2 -6.2l6.2 6.2l-6.2 6.2zh12.3M822.4 143.6v12.3M823.7 145.9l6.2 -6.2l6.2 6.2l-6.2 6.2zh12.3M829.9 139.7v12.3M831.1 141.1l6.2 -6.2l6.2 6.2l-6.2 6.2zh12.3M837.3 135v12.3" stroke="#00ffff" stroke-width="2.2" fill="none"/>
<path d="M355.8 361.4a4.3 4.3 0 1 0 8.7 0a4.3 4.3 0 1 0 -8.7 0h8.7M360.2 357v8.7M350 321.1a4.3 4.3 0 1 0 8.7 0a4.3 4.3 0 1 0 -8.7 0h8.7M354.3 316.7v8.7M346.3 285.6a4.3 4.3 0 1 0 8.7 0a4.3 4.3 0 1 0 -8.7 0h8.7M350.7 281.2v8.7M346.3 256a4.3 4.3 0 1 0 8.7 0a4.3 4.3 0 1 0 -8.7 0h8.7M350.7 251.7v8.7M347.8 231.9a4.3 4.3 0 1 0 8.7 0a4.3 4.3 0 1 0 -8.7 0h8.7M352.1 227.6v8.7M352.9 209.4a4.3 4.3 0 1 0 8.7 0a4.3 4.3 0 1 0 -8.7 0h8.7M357.3 205v8.7M360.6 189.9a4.3 4.3 0 1 0 8.7 0a4.3 4.3 0 1 0 -8.7 0h8.7M365 185.5v8.7M369.4 172.8a4.3 4.3 0 1 0 8.7 0a4.3 4.3 0 1 0 -8.7 0h8.7M373.8 168.4v8.7M380.8 158.7a4.3 4.3 0 1 0 8.7 0a4.3 4.3 0 1 0 -8.7 0h8.7M385.1 154.4v8.7M394.7 146.7a4.3 4.3 0 1 0 8.7 0a4.3 4.3 0 1 0 -8.7 0h8.7M399 142.3v8.7M411.9 134.6a4.3 4.3 0 1 0 8.7 0a4.3 4.3 0 1 0 -8.7 0h8.7M416.3 130.3v8.7M429.1 125.7a4.3 4.3 0 1 0 8.7 0a4.3 4.3 0 1 0 -8.7 0h8.7M433.5 121.3v8.7M448.6 118a4.3 4.3 0 1 0 8.7 0a4.3 4.3 0 1 0 -8.7 0h8.7M452.9 113.6v8.7M469.5 110.8a4.3 4.3 0 1 0 8.7 0a4.3 4.3 0 1 0 -8.7 0h8.7M473.8 106.4v8.7M492.9 105.5a4.3 4.3 0 1 0 8.7 0a4.3 4.3 0 1 0 -8.7 0h8.7M497.3 101.2v8.7M516 101.3a4.3 4.3 0 1 0 8.7 0a4.3 4.3 0 1 0 -8.7 0h8.7M520.4 97v8.7M540.9 97.6a4.3 4.3 0 1 0 8.7 0a4.3 4.3 0 1 0 -8.7 0h8.7M545.3 93.3v8.7M565.5 97.2a4.3 4.3 0 1 0 8.7 0a4.3 4.3 0 1 0 -8.7 0h8.7M569.8 92.8v8.7M589.7 97.4a4.3 4.3 0 1 0 8.7 0a4.3 4.3 0 1 0 -8.7 0h8.7M594 93.1v8.7M613.5 99.2a4.3 4.3 0 1 0 8.7 0a4.3 4.3 0 1 0 -8.7 0h8.7M617.8 94.8v8.7M636.2 102a4.3 4.3 0 1 0 8.7 0a4.3 4.3 0 1 0 -8.7 0h8.7M640.6 97.7v8.7M657.8 106.2a4.3 4.3 0 1 0 8.7 0a4.3 4.3 0 1 0 -8.7 0h8.7M662.2 101.8v8.7M678.7 111a4.3 4.3 0 1 0 8.7 0a4.3 4.3 0 1 0 -8.7 0h8.7M683.1 106.6v8.7M695.2 116.5a4.3 4.3 0 1 0 8.7 0a4.3 4.3 0 1 0 -8.7 0h8.7M699.6 112.1v8.7M710.6 121.5a4.3 4.3 0 1 0 8.7 0a4.3 4.3 0 1 0 -8.7 0h8.7M715 117.2v8.7M724.2 127.4a4.3 4.3 0 1 0 8.7 0a4.3 4.3 0 1 0 -8.7 0h8.7M728.5 123.1v8.7M735.2 133.6a4.3 4.3 0 1 0 8.7 0a4.3 4.3 0 1 0 -8.7 0h8.7M739.5 129.2v8.7M745.1 139a4.3 4.3 0 1 0 8.7 0a4.3 4.3 0 1 0 -8.7 0h8.7M749.4 134.7v8.7M752.8 144.1a4.3 4.3 0 1 0 8.7 0a4.3 4.3 0 1 0 -8.7 0h8.7M757.1 139.7v8.7M758.9 148.1a4.3 4.3 0 1 0 8.7 0a4.3 4.3 0 1 0 -8.7 0h8.7M763.3 143.8v8.7M764.2 151.7a4.3 4.3 0 1 0 8.7 0a4.3 4.3 0 1 0 -8.7 0h8.7M768.5 147.3v8.7M768.6 154.7a4.3 4.3 0 1 0 8.7 0a4.3 4.3 0 1 0 -8.7 0h8.7M772.9 150.3v8.7M772.3 157a4.3 4.3 0 1 0 8.7 0a4.3 4.3 0 1 0 -8.7 0h8.7M776.7 152.7v8.7M775.5 158.5a4.3 4.3 0 1 0 8.7 0a4.3 4.3 0 1 0 -8.7 0h8.7M779.8 154.2v8.7M778.2 159.4a4.3 4.3 0 1 0 8.7 0a4.3 4.3 0 1 0 -8.7 0h8.7M782.5 155v8.7M780.4 160.5a4.3 4.3 0 1 0 8.7 0a4.3 4.3 0 1 0 -8.7 0h8.7M784.8 156.2v8.7M782.7 159.7a4.3 4.3 0 1 0 8.7 0a4.3 4.3 0 1 0 -8.7 0h8.7M787.1 155.4v8.7M785.4 159.3a4.3 4.3 0 1 0 8.7 0a4.3 4.3 0 1 0 -8.7 0h8.7M789.7 155v8.7M788.5 158.5a4.3 4.3 0 1 0 8.7 0a4.3 4.3 0 1 0 -8.7 0h8.7M792.9 154.2v8.7M792.2 156.9a4.3 4.3 0 1 0 8.7 0a4.3 4.3 0 1 0 -8.7 0h8.7M796.5 152.6v8.7M796.5 154.8a4.3 4.3 0 1 0 8.7 0a4.3 4.3 0 1 0 -8.7 0h8.7M800.8 150.5v8.7M801.6 152.3a4.3 4.3 0 1 0 8.7 0a4.3 4.3 0 1 0 -8.7 0h8.7M806 148v8.7M807.7 149.4a4.3 4.3 0 1 0 8.7 0a4.3 4.3 0 1 0 -8.7 0h8.7M812 145v8.7M814.7 145.9a4.3 4.3 0 1 0 8.7 0a4.3 4.3 0 1 0 -8.7 0h8.7M819.1 141.5v8.7M823 141.8a4.3 4.3 0 1 0 8.7 0a4.3 4.3 0 1 0 -8.7 0h8.7M827.4 137.5v8.7" stroke="#a020f0" stroke-width="2.2" fill="none"/>
<rect x="170.6" y="53" width="805.4" height="360.2" fill="none" stroke="#333" stroke-width="1.6"/>
<path d="M206.5 413.2v9.8M389.8 413.2v9.8M573 413.2v9.8M756.2 413.2v9.8M939.5 413.2v9.8" stroke="#333" stroke-width="2.8" fill="none"/>
<path d="M170.6 69.5h-9.4M170.6 178.1h-9.4M170.6 287.8h-9.4M170.6 398.2h-9.4" stroke="#333" stroke-width="2.3" fill="none"/>
<text><tspan x="169.6" y="27.7" font-size="34" textLength="72" lengthAdjust="spacingAndGlyphs">Cell </tspan><tspan x="238.7" y="27.7" font-size="34" textLength="183.2" lengthAdjust="spacingAndGlyphs">connected </tspan><tspan x="423.2" y="27.7" font-size="34" textLength="82" lengthAdjust="spacingAndGlyphs">with </tspan><tspan x="507.4" y="27.7" font-size="34" textLength="126.3" lengthAdjust="spacingAndGlyphs">welded </tspan><tspan x="633.8" y="27.7" font-size="34" textLength="69" lengthAdjust="spacingAndGlyphs">tabs</tspan></text>
<text x="138.3" y="77.9" font-size="25.8" textLength="15.4" lengthAdjust="spacingAndGlyphs">5</text>
<text x="138.1" y="186.5" font-size="25.8" textLength="15.4" lengthAdjust="spacingAndGlyphs">0</text>
<text x="129" y="296.2" font-size="25.8" textLength="24.5" lengthAdjust="spacingAndGlyphs">-5</text>
<text x="113.6" y="406.6" font-size="25.8" textLength="39.9" lengthAdjust="spacingAndGlyphs">-10</text>
<text x="190.7" y="448.5" font-size="27.3" textLength="31.6" lengthAdjust="spacingAndGlyphs">25</text>
<text x="374" y="448.5" font-size="27.3" textLength="31.6" lengthAdjust="spacingAndGlyphs">30</text>
<text x="557.3" y="448.5" font-size="27.3" textLength="31.6" lengthAdjust="spacingAndGlyphs">35</text>
<text x="740.8" y="448.5" font-size="27.3" textLength="31.6" lengthAdjust="spacingAndGlyphs">40</text>
<text x="924.1" y="448.5" font-size="27.3" textLength="31.6" lengthAdjust="spacingAndGlyphs">45</text>
<text><tspan x="413.6" y="488.3" font-size="25.2" textLength="58.8" lengthAdjust="spacingAndGlyphs">Real </tspan><tspan x="473.5" y="488.3" font-size="25.2" textLength="154" lengthAdjust="spacingAndGlyphs">Impedance, </tspan><tspan x="626.1" y="488.3" font-size="25.2" textLength="16" lengthAdjust="spacingAndGlyphs">Z</tspan><tspan x="641.2" y="493.3" font-size="16.5" textLength="21.7" lengthAdjust="spacingAndGlyphs">Re</tspan><tspan x="663.2" y="487.9" font-size="34.2" textLength="10.3" lengthAdjust="spacingAndGlyphs">(</tspan><tspan x="674.6" y="488.3" font-size="24.8" textLength="47.4" lengthAdjust="spacingAndGlyphs">mΩ</tspan><tspan x="723.4" y="487.9" font-size="34.2" textLength="9" lengthAdjust="spacingAndGlyphs">)</tspan></text>
<text transform="rotate(-90)"><tspan x="-441.4" y="94.5" font-size="27" textLength="17.7" lengthAdjust="spacingAndGlyphs">- </tspan><tspan x="-426.6" y="94.5" font-size="27" textLength="131.6" lengthAdjust="spacingAndGlyphs">Imaginary </tspan><tspan x="-294.5" y="94.5" font-size="27" textLength="152.9" lengthAdjust="spacingAndGlyphs">Impedance, </tspan><tspan x="-141.4" y="94.5" font-size="27" textLength="8.7" lengthAdjust="spacingAndGlyphs">-</tspan><tspan x="-132" y="94.5" font-size="27" textLength="14.2" lengthAdjust="spacingAndGlyphs">Z</tspan><tspan x="-118" y="100.3" font-size="17.5" textLength="22.6" lengthAdjust="spacingAndGlyphs">Im</tspan><tspan x="-93.5" y="94" font-size="36" textLength="10.4" lengthAdjust="spacingAndGlyphs">(</tspan><tspan x="-82" y="94.5" font-size="27.5" textLength="45.9" lengthAdjust="spacingAndGlyphs">mΩ</tspan><tspan x="-35.4" y="94" font-size="36" textLength="9.6" lengthAdjust="spacingAndGlyphs">)</tspan></text>
<text x="8.2" y="519.3" font-size="40" class="serif">(a)</text>
</g>
<g id="chart-b">
<rect x="221.3" y="633" width="773.5" height="352.8" fill="#fff"/>
<path d="M343.4 633V985.8M519.9 633V985.8M696.4 633V985.8M872.9 633V985.8M221.3 675.4H994.8M221.3 729H994.8M221.3 782.6H994.8M221.3 836.2H994.8M221.3 889.8H994.8M221.3 943.5H994.8" stroke="#f2f2f2" stroke-width="2" fill="none"/>
<path d="M255.2 633V985.8M431.7 633V985.8M608.2 633V985.8M784.6 633V985.8M961.1 633V985.8" stroke="#ebebeb" stroke-width="3.3" fill="none"/>
<path d="M221.3 648.6H994.8M221.3 702.2H994.8M221.3 755.8H994.8M221.3 809.4H994.8M221.3 863H994.8M221.3 916.7H994.8M221.3 970.3H994.8" stroke="#ebebeb" stroke-width="2.7" fill="none"/>
<path d="M889.5 862.1a4.2 4.2 0 1 0 8.3 0a4.2 4.2 0 1 0 -8.3 0M756.3 831.2a4.2 4.2 0 1 0 8.3 0a4.2 4.2 0 1 0 -8.3 0M720 805.6a4.2 4.2 0 1 0 8.3 0a4.2 4.2 0 1 0 -8.3 0M663.2 784.1a4.2 4.2 0 1 0 8.3 0a4.2 4.2 0 1 0 -8.3 0M627.9 769a4.2 4.2 0 1 0 8.3 0a4.2 4.2 0 1 0 -8.3 0M598.1 756a4.2 4.2 0 1 0 8.3 0a4.2 4.2 0 1 0 -8.3 0M560.7 745.7a4.2 4.2 0 1 0 8.3 0a4.2 4.2 0 1 0 -8.3 0M524.6 736.4a4.2 4.2 0 1 0 8.3 0a4.2 4.2 0 1 0 -8.3 0M507.8 730.2a4.2 4.2 0 1 0 8.3 0a4.2 4.2 0 1 0 -8.3 0M490.2 724.6a4.2 4.2 0 1 0 8.3 0a4.2 4.2 0 1 0 -8.3 0M476 720.1a4.2 4.2 0 1 0 8.3 0a4.2 4.2 0 1 0 -8.3 0M461 716.4a4.2 4.2 0 1 0 8.3 0a4.2 4.2 0 1 0 -8.3 0M449.4 713.5a4.2 4.2 0 1 0 8.3 0a4.2 4.2 0 1 0 -8.3 0M442.9 711.1a4.2 4.2 0 1 0 8.3 0a4.2 4.2 0 1 0 -8.3 0M436.8 709.2a4.2 4.2 0 1 0 8.3 0a4.2 4.2 0 1 0 -8.3 0M434.3 707.4a4.2 4.2 0 1 0 8.3 0a4.2 4.2 0 1 0 -8.3 0M433.9 706a4.2 4.2 0 1 0 8.3 0a4.2 4.2 0 1 0 -8.3 0M433.9 704.8a4.2 4.2 0 1 0 8.3 0a4.2 4.2 0 1 0 -8.3 0M440.3 703.7a4.2 4.2 0 1 0 8.3 0a4.2 4.2 0 1 0 -8.3 0M446.6 702.7a4.2 4.2 0 1 0 8.3 0a4.2 4.2 0 1 0 -8.3 0M455.3 701.9a4.2 4.2 0 1 0 8.3 0a4.2 4.2 0 1 0 -8.3 0M466.9 701.2a4.2 4.2 0 1 0 8.3 0a4.2 4.2 0 1 0 -8.3 0M478.8 700.6a4.2 4.2 0 1 0 8.3 0a4.2 4.2 0 1 0 -8.3 0M495.9 700a4.2 4.2 0 1 0 8.3 0a4.2 4.2 0 1 0 -8.3 0M512.9 699.6a4.2 4.2 0 1 0 8.3 0a4.2 4.2 0 1 0 -8.3 0M532 699.3a4.2 4.2 0 1 0 8.3 0a4.2 4.2 0 1 0 -8.3 0M550.6 698.9a4.2 4.2 0 1 0 8.3 0a4.2 4.2 0 1 0 -8.3 0M572.4 698.6a4.2 4.2 0 1 0 8.3 0a4.2 4.2 0 1 0 -8.3 0M594.2 698.4a4.2 4.2 0 1 0 8.3 0a4.2 4.2 0 1 0 -8.3 0M619.8 698.2a4.2 4.2 0 1 0 8.3 0a4.2 4.2 0 1 0 -8.3 0M644.4 698.2a4.2 4.2 0 1 0 8.3 0a4.2 4.2 0 1 0 -8.3 0M667.9 698.2a4.2 4.2 0 1 0 8.3 0a4.2 4.2 0 1 0 -8.3 0M691.2 698.2a4.2 4.2 0 1 0 8.3 0a4.2 4.2 0 1 0 -8.3 0M714.4 698.3a4.2 4.2 0 1 0 8.3 0a4.2 4.2 0 1 0 -8.3 0M735 698.5a4.2 4.2 0 1 0 8.3 0a4.2 4.2 0 1 0 -8.3 0M754.7 698.7a4.2 4.2 0 1 0 8.3 0a4.2 4.2 0 1 0 -8.3 0M772.7 698.9a4.2 4.2 0 1 0 8.3 0a4.2 4.2 0 1 0 -8.3 0M788.4 699.2a4.2 4.2 0 1 0 8.3 0a4.2 4.2 0 1 0 -8.3 0M800.8 699.5a4.2 4.2 0 1 0 8.3 0a4.2 4.2 0 1 0 -8.3 0M810.9 699.8a4.2 4.2 0 1 0 8.3 0a4.2 4.2 0 1 0 -8.3 0M821.2 700.1a4.2 4.2 0 1 0 8.3 0a4.2 4.2 0 1 0 -8.3 0M828.7 700.3a4.2 4.2 0 1 0 8.3 0a4.2 4.2 0 1 0 -8.3 0M835.3 700.6a4.2 4.2 0 1 0 8.3 0a4.2 4.2 0 1 0 -8.3 0M840.7 700.7a4.2 4.2 0 1 0 8.3 0a4.2 4.2 0 1 0 -8.3 0M844 701a4.2 4.2 0 1 0 8.3 0a4.2 4.2 0 1 0 -8.3 0M848.5 701.1a4.2 4.2 0 1 0 8.3 0a4.2 4.2 0 1 0 -8.3 0M852 701.2a4.2 4.2 0 1 0 8.3 0a4.2 4.2 0 1 0 -8.3 0M853 701.4a4.2 4.2 0 1 0 8.3 0a4.2 4.2 0 1 0 -8.3 0M855.1 701.4a4.2 4.2 0 1 0 8.3 0a4.2 4.2 0 1 0 -8.3 0M860 701.4a4.2 4.2 0 1 0 8.3 0a4.2 4.2 0 1 0 -8.3 0M861.7 701.4a4.2 4.2 0 1 0 8.3 0a4.2 4.2 0 1 0 -8.3 0M866 701.3a4.2 4.2 0 1 0 8.3 0a4.2 4.2 0 1 0 -8.3 0M871.6 701.2a4.2 4.2 0 1 0 8.3 0a4.2 4.2 0 1 0 -8.3 0M875.4 701.1a4.2 4.2 0 1 0 8.3 0a4.2 4.2 0 1 0 -8.3 0M882.4 700.9a4.2 4.2 0 1 0 8.3 0a4.2 4.2 0 1 0 -8.3 0M890.8 700.8a4.2 4.2 0 1 0 8.3 0a4.2 4.2 0 1 0 -8.3 0M897.6 700.6a4.2 4.2 0 1 0 8.3 0a4.2 4.2 0 1 0 -8.3 0M907.2 700.4a4.2 4.2 0 1 0 8.3 0a4.2 4.2 0 1 0 -8.3 0" stroke="#ff0000" stroke-width="2.2" fill="none"/>
<path d="M882.8 855.6l5.6 9.7h-11.2zM746.2 824.7l5.6 9.7h-11.2zM709.5 799.1l5.6 9.7h-11.2zM653.3 777.7l5.6 9.7h-11.2zM618.4 762.6l5.6 9.7h-11.2zM589.3 749.6l5.6 9.7h-11.2zM551 739.3l5.6 9.7h-11.2zM514.9 730l5.6 9.7h-11.2zM496.2 723.7l5.6 9.7h-11.2zM478.8 718.2l5.6 9.7h-11.2zM465.7 713.7l5.6 9.7h-11.2zM449.6 709.9l5.6 9.7h-11.2zM440.5 707l5.6 9.7h-11.2zM434.5 704.6l5.6 9.7h-11.2zM427.8 702.7l5.6 9.7h-11.2zM423.2 701l5.6 9.7h-11.2zM423.8 699.5l5.6 9.7h-11.2zM426.3 698.4l5.6 9.7h-11.2zM429.1 697.2l5.6 9.7h-11.2zM437.7 696.3l5.6 9.7h-11.2zM446.1 695.5l5.6 9.7h-11.2zM456.9 694.7l5.6 9.7h-11.2zM471 694.2l5.6 9.7h-11.2zM486 693.6l5.6 9.7h-11.2zM502.3 693.1l5.6 9.7h-11.2zM521.8 692.8l5.6 9.7h-11.2zM541.3 692.5l5.6 9.7h-11.2zM564.9 692.1l5.6 9.7h-11.2zM587.2 691.9l5.6 9.7h-11.2zM611 691.8l5.6 9.7h-11.2zM633.6 691.7l5.6 9.7h-11.2zM657.7 691.8l5.6 9.7h-11.2zM680.3 691.8l5.6 9.7h-11.2zM703.2 691.9l5.6 9.7h-11.2zM726.2 692.1l5.6 9.7h-11.2zM746.7 692.3l5.6 9.7h-11.2zM763.1 692.5l5.6 9.7h-11.2zM776.4 692.8l5.6 9.7h-11.2zM789.7 693.1l5.6 9.7h-11.2zM801.6 693.4l5.6 9.7h-11.2zM811.9 693.7l5.6 9.7h-11.2zM819.2 693.9l5.6 9.7h-11.2zM824 694.1l5.6 9.7h-11.2zM830.9 694.3l5.6 9.7h-11.2zM834.6 694.5l5.6 9.7h-11.2zM836.6 694.7l5.6 9.7h-11.2zM839.9 694.8l5.6 9.7h-11.2zM843.9 694.9l5.6 9.7h-11.2zM844.5 694.9l5.6 9.7h-11.2zM848.3 694.9l5.6 9.7h-11.2zM850.2 694.9l5.6 9.7h-11.2zM855.9 694.8l5.6 9.7h-11.2zM858.3 694.7l5.6 9.7h-11.2zM865.3 694.6l5.6 9.7h-11.2zM869.5 694.5l5.6 9.7h-11.2zM875.5 694.4l5.6 9.7h-11.2zM885.2 694.1l5.6 9.7h-11.2zM892.9 693.9l5.6 9.7h-11.2z" stroke="#0000ff" stroke-width="2.2" fill="none"/>
<path d="M891.3 862.1h11.7M897.2 856.2v11.7M758.9 831.2h11.7M764.8 825.3v11.7M720 805.6h11.7M725.8 799.7v11.7M665.6 784.1h11.7M671.5 778.3v11.7M630.4 769h11.7M636.2 763.1v11.7M599.7 756h11.7M605.6 750.2v11.7M561.6 745.7h11.7M567.5 739.9v11.7M528.1 736.4h11.7M534 730.5v11.7M507.9 730.2h11.7M513.8 724.3v11.7M491 724.6h11.7M496.9 718.7v11.7M474.9 720.1h11.7M480.7 714.2v11.7M460 716.4h11.7M465.8 710.5v11.7M444.7 713.5h11.7M450.6 707.6v11.7M438.6 711.1h11.7M444.5 705.3v11.7M434.2 709.2h11.7M440.1 703.3v11.7M429.5 707.4h11.7M435.4 701.6v11.7M430 706h11.7M435.8 700.1v11.7M430.1 704.8h11.7M436 698.9v11.7M435.3 703.7h11.7M441.1 697.9v11.7M443.8 702.7h11.7M449.7 696.9v11.7M451.6 701.9h11.7M457.5 696v11.7M463.3 701.2h11.7M469.2 695.4v11.7M475.8 700.6h11.7M481.7 694.8v11.7M492 700h11.7M497.9 694.2v11.7M508.3 699.6h11.7M514.2 693.7v11.7M526.9 699.2h11.7M532.8 693.3v11.7M547.4 698.9h11.7M553.3 693v11.7M570.5 698.7h11.7M576.4 692.8v11.7M591.6 698.4h11.7M597.5 692.5v11.7M616.2 698.3h11.7M622 692.4v11.7M638.7 698.2h11.7M644.5 692.3v11.7M662.5 698.2h11.7M668.3 692.3v11.7M686 698.2h11.7M691.9 692.3v11.7M710.3 698.3h11.7M716.2 692.4v11.7M730.2 698.5h11.7M736.1 692.6v11.7M752.2 698.7h11.7M758.1 692.9v11.7M769.2 698.9h11.7M775.1 693v11.7M782.8 699.1h11.7M788.7 693.3v11.7M796.7 699.5h11.7M802.6 693.6v11.7M809.1 699.8h11.7M815 693.9v11.7M817 700.1h11.7M822.9 694.2v11.7M825.7 700.3h11.7M831.6 694.5v11.7M831.2 700.6h11.7M837.1 694.7v11.7M837.3 700.8h11.7M843.2 694.9v11.7M841 701h11.7M846.8 695.1v11.7M843 701.1h11.7M848.9 695.3v11.7M847.3 701.3h11.7M853.2 695.4v11.7M848.3 701.3h11.7M854.2 695.4v11.7M852.1 701.4h11.7M858 695.5v11.7M853.5 701.4h11.7M859.4 695.5v11.7M856.7 701.3h11.7M862.6 695.5v11.7M860.9 701.3h11.7M866.8 695.5v11.7M865.4 701.2h11.7M871.3 695.3v11.7M871 701.1h11.7M876.9 695.2v11.7M874.7 700.9h11.7M880.5 695v11.7M881.9 700.8h11.7M887.7 694.9v11.7M887.7 700.6h11.7M893.6 694.8v11.7M897.3 700.4h11.7M903.2 694.5v11.7" stroke="#00ff00" stroke-width="2.2" fill="none"/>
<path d="M876.6 857.9l8.3 8.3M876.6 866.2l8.3 -8.3M743.1 827l8.3 8.3M743.1 835.3l8.3 -8.3M705.9 801.4l8.3 8.3M705.9 809.7l8.3 -8.3M651.1 780l8.3 8.3M651.1 788.3l8.3 -8.3M618.2 764.9l8.3 8.3M618.2 773.2l8.3 -8.3M588.9 751.9l8.3 8.3M588.9 760.2l8.3 -8.3M548.5 741.6l8.3 8.3M548.5 749.9l8.3 -8.3M515.4 732.3l8.3 8.3M515.4 740.6l8.3 -8.3M494.1 726l8.3 8.3M494.1 734.3l8.3 -8.3M476.7 720.5l8.3 8.3M476.7 728.8l8.3 -8.3M461.9 716l8.3 8.3M461.9 724.3l8.3 -8.3M449.9 712.2l8.3 8.3M449.9 720.5l8.3 -8.3M438.9 709.3l8.3 8.3M438.9 717.6l8.3 -8.3M430.9 707l8.3 8.3M430.9 715.3l8.3 -8.3M424.9 705.1l8.3 8.3M424.9 713.4l8.3 -8.3M422.5 703.3l8.3 8.3M422.5 711.6l8.3 -8.3M421 701.8l8.3 8.3M421 710.1l8.3 -8.3M424.2 700.7l8.3 8.3M424.2 709l8.3 -8.3M428.7 699.6l8.3 8.3M428.7 707.9l8.3 -8.3M435.2 698.6l8.3 8.3M435.2 706.9l8.3 -8.3M443.3 697.8l8.3 8.3M443.3 706.1l8.3 -8.3M454.9 697l8.3 8.3M454.9 705.3l8.3 -8.3M467.3 696.5l8.3 8.3M467.3 704.8l8.3 -8.3M484.7 695.9l8.3 8.3M484.7 704.2l8.3 -8.3M500.4 695.5l8.3 8.3M500.4 703.8l8.3 -8.3M518.1 695.1l8.3 8.3M518.1 703.4l8.3 -8.3M538.2 694.7l8.3 8.3M538.2 703l8.3 -8.3M561.1 694.5l8.3 8.3M561.1 702.8l8.3 -8.3M582.8 694.2l8.3 8.3M582.8 702.5l8.3 -8.3M608.7 694.1l8.3 8.3M608.7 702.4l8.3 -8.3M631.3 694.1l8.3 8.3M631.3 702.4l8.3 -8.3M655.1 694l8.3 8.3M655.1 702.3l8.3 -8.3M678.2 694.1l8.3 8.3M678.2 702.4l8.3 -8.3M700.8 694.2l8.3 8.3M700.8 702.5l8.3 -8.3M723.9 694.4l8.3 8.3M723.9 702.7l8.3 -8.3M742.7 694.5l8.3 8.3M742.7 702.8l8.3 -8.3M759.2 694.8l8.3 8.3M759.2 703.1l8.3 -8.3M773.6 695.1l8.3 8.3M773.6 703.4l8.3 -8.3M788.1 695.4l8.3 8.3M788.1 703.7l8.3 -8.3M798.3 695.7l8.3 8.3M798.3 704l8.3 -8.3M807.7 696l8.3 8.3M807.7 704.3l8.3 -8.3M815.6 696.2l8.3 8.3M815.6 704.5l8.3 -8.3M821.7 696.5l8.3 8.3M821.7 704.8l8.3 -8.3M827.2 696.7l8.3 8.3M827.2 705l8.3 -8.3M832 696.8l8.3 8.3M832 705.1l8.3 -8.3M835.8 697l8.3 8.3M835.8 705.3l8.3 -8.3M838.6 697.1l8.3 8.3M838.6 705.4l8.3 -8.3M840.2 697.2l8.3 8.3M840.2 705.5l8.3 -8.3M843.7 697.3l8.3 8.3M843.7 705.6l8.3 -8.3M846 697.2l8.3 8.3M846 705.5l8.3 -8.3M847.5 697.2l8.3 8.3M847.5 705.5l8.3 -8.3M853.1 697.1l8.3 8.3M853.1 705.4l8.3 -8.3M856.7 697l8.3 8.3M856.7 705.3l8.3 -8.3M859.8 696.9l8.3 8.3M859.8 705.2l8.3 -8.3M866 696.8l8.3 8.3M866 705.1l8.3 -8.3M872.8 696.6l8.3 8.3M872.8 704.9l8.3 -8.3M879.3 696.4l8.3 8.3M879.3 704.7l8.3 -8.3M887.7 696.2l8.3 8.3M887.7 704.5l8.3 -8.3" stroke="#ffa500" stroke-width="2.2" fill="none"/>
<path d="M875.2 862.1l5.9 -5.9l5.9 5.9l-5.9 5.9zM738.3 831.2l5.9 -5.9l5.9 5.9l-5.9 5.9zM703.8 805.6l5.9 -5.9l5.9 5.9l-5.9 5.9zM651.3 784.1l5.9 -5.9l5.9 5.9l-5.9 5.9zM616.8 769l5.9 -5.9l5.9 5.9l-5.9 5.9zM586.3 756l5.9 -5.9l5.9 5.9l-5.9 5.9zM548.9 745.7l5.9 -5.9l5.9 5.9l-5.9 5.9zM513 736.4l5.9 -5.9l5.9 5.9l-5.9 5.9zM494.6 730.2l5.9 -5.9l5.9 5.9l-5.9 5.9zM477.9 724.6l5.9 -5.9l5.9 5.9l-5.9 5.9zM458.6 720.1l5.9 -5.9l5.9 5.9l-5.9 5.9zM447.5 716.4l5.9 -5.9l5.9 5.9l-5.9 5.9zM437.9 713.5l5.9 -5.9l5.9 5.9l-5.9 5.9zM429.1 711.1l5.9 -5.9l5.9 5.9l-5.9 5.9zM423.3 709.1l5.9 -5.9l5.9 5.9l-5.9 5.9zM420.4 707.4l5.9 -5.9l5.9 5.9l-5.9 5.9zM420 706l5.9 -5.9l5.9 5.9l-5.9 5.9zM420.1 704.8l5.9 -5.9l5.9 5.9l-5.9 5.9zM426.4 703.7l5.9 -5.9l5.9 5.9l-5.9 5.9zM433.2 702.8l5.9 -5.9l5.9 5.9l-5.9 5.9zM440.3 701.9l5.9 -5.9l5.9 5.9l-5.9 5.9zM452.7 701.2l5.9 -5.9l5.9 5.9l-5.9 5.9zM466 700.7l5.9 -5.9l5.9 5.9l-5.9 5.9zM482.1 700.1l5.9 -5.9l5.9 5.9l-5.9 5.9zM498.4 699.6l5.9 -5.9l5.9 5.9l-5.9 5.9zM518.1 699.3l5.9 -5.9l5.9 5.9l-5.9 5.9zM538.3 698.8l5.9 -5.9l5.9 5.9l-5.9 5.9zM558.4 698.6l5.9 -5.9l5.9 5.9l-5.9 5.9zM582.5 698.4l5.9 -5.9l5.9 5.9l-5.9 5.9zM605.5 698.3l5.9 -5.9l5.9 5.9l-5.9 5.9zM629 698.2l5.9 -5.9l5.9 5.9l-5.9 5.9zM652.8 698.2l5.9 -5.9l5.9 5.9l-5.9 5.9zM676 698.2l5.9 -5.9l5.9 5.9l-5.9 5.9zM700.4 698.4l5.9 -5.9l5.9 5.9l-5.9 5.9zM721.3 698.5l5.9 -5.9l5.9 5.9l-5.9 5.9zM742.1 698.7l5.9 -5.9l5.9 5.9l-5.9 5.9zM756.8 698.9l5.9 -5.9l5.9 5.9l-5.9 5.9zM772.6 699.3l5.9 -5.9l5.9 5.9l-5.9 5.9zM784.7 699.5l5.9 -5.9l5.9 5.9l-5.9 5.9zM796.7 699.9l5.9 -5.9l5.9 5.9l-5.9 5.9zM805.8 700.1l5.9 -5.9l5.9 5.9l-5.9 5.9zM813.9 700.3l5.9 -5.9l5.9 5.9l-5.9 5.9zM819.4 700.6l5.9 -5.9l5.9 5.9l-5.9 5.9zM826.3 700.8l5.9 -5.9l5.9 5.9l-5.9 5.9zM830.6 701l5.9 -5.9l5.9 5.9l-5.9 5.9zM834 701.1l5.9 -5.9l5.9 5.9l-5.9 5.9zM835.6 701.3l5.9 -5.9l5.9 5.9l-5.9 5.9zM839.5 701.3l5.9 -5.9l5.9 5.9l-5.9 5.9zM840 701.4l5.9 -5.9l5.9 5.9l-5.9 5.9zM842.7 701.4l5.9 -5.9l5.9 5.9l-5.9 5.9zM845.3 701.3l5.9 -5.9l5.9 5.9l-5.9 5.9zM849.2 701.2l5.9 -5.9l5.9 5.9l-5.9 5.9zM853 701.2l5.9 -5.9l5.9 5.9l-5.9 5.9zM858.1 701.1l5.9 -5.9l5.9 5.9l-5.9 5.9zM862.9 700.9l5.9 -5.9l5.9 5.9l-5.9 5.9zM870.1 700.8l5.9 -5.9l5.9 5.9l-5.9 5.9zM876.4 700.6l5.9 -5.9l5.9 5.9l-5.9 5.9zM885.2 700.4l5.9 -5.9l5.9 5.9l-5.9 5.9z" stroke="#ff00ff" stroke-width="2.2" fill="none"/>
<path d="M870.3 868.5l5.6 -9.7h-11.2zM732.3 837.7l5.6 -9.7h-11.2zM699.5 812l5.6 -9.7h-11.2zM642 790.6l5.6 -9.7h-11.2zM610.9 775.5l5.6 -9.7h-11.2zM579 762.5l5.6 -9.7h-11.2zM539.3 752.2l5.6 -9.7h-11.2zM508.5 742.9l5.6 -9.7h-11.2zM487.9 736.6l5.6 -9.7h-11.2zM470.5 731.1l5.6 -9.7h-11.2zM452.7 726.6l5.6 -9.7h-11.2zM438.8 722.8l5.6 -9.7h-11.2zM430.7 719.9l5.6 -9.7h-11.2zM424.4 717.5l5.6 -9.7h-11.2zM417.5 715.6l5.6 -9.7h-11.2zM413.3 713.9l5.6 -9.7h-11.2zM413.6 712.5l5.6 -9.7h-11.2zM414.7 711.3l5.6 -9.7h-11.2zM420.3 710.1l5.6 -9.7h-11.2zM428.1 709.2l5.6 -9.7h-11.2zM435.7 708.4l5.6 -9.7h-11.2zM446.5 707.7l5.6 -9.7h-11.2zM459 707.1l5.6 -9.7h-11.2zM477.8 706.5l5.6 -9.7h-11.2zM493.2 706l5.6 -9.7h-11.2zM512.7 705.7l5.6 -9.7h-11.2zM531.3 705.4l5.6 -9.7h-11.2zM554.1 705.1l5.6 -9.7h-11.2zM577.6 704.8l5.6 -9.7h-11.2zM601.4 704.7l5.6 -9.7h-11.2zM623.2 704.6l5.6 -9.7h-11.2zM649 704.6l5.6 -9.7h-11.2zM671.5 704.8l5.6 -9.7h-11.2zM693.2 704.8l5.6 -9.7h-11.2zM715.4 705l5.6 -9.7h-11.2zM736.1 705.3l5.6 -9.7h-11.2zM750.2 705.5l5.6 -9.7h-11.2zM766.2 705.7l5.6 -9.7h-11.2zM780.5 706l5.6 -9.7h-11.2zM790.6 706.3l5.6 -9.7h-11.2zM799.8 706.6l5.6 -9.7h-11.2zM806.4 706.8l5.6 -9.7h-11.2zM813 707l5.6 -9.7h-11.2zM818.9 707.3l5.6 -9.7h-11.2zM821.8 707.5l5.6 -9.7h-11.2zM826.5 707.6l5.6 -9.7h-11.2zM828.2 707.7l5.6 -9.7h-11.2zM831.7 707.7l5.6 -9.7h-11.2zM833.4 707.9l5.6 -9.7h-11.2zM836.6 707.8l5.6 -9.7h-11.2zM838.7 707.8l5.6 -9.7h-11.2zM843.6 707.7l5.6 -9.7h-11.2zM847.1 707.6l5.6 -9.7h-11.2zM849.8 707.5l5.6 -9.7h-11.2zM856.6 707.4l5.6 -9.7h-11.2zM860.8 707.3l5.6 -9.7h-11.2zM868 707l5.6 -9.7h-11.2zM875.8 706.9l5.6 -9.7h-11.2z" stroke="#000080" stroke-width="2.2" fill="none"/>
<path d="M868 857.9h8.3v8.3h-8.3zl8.3 8.3M868 866.2l8.3 -8.3M727.9 827h8.3v8.3h-8.3zl8.3 8.3M727.9 835.3l8.3 -8.3M695.3 801.4h8.3v8.3h-8.3zl8.3 8.3M695.3 809.7l8.3 -8.3M642 780h8.3v8.3h-8.3zl8.3 8.3M642 788.3l8.3 -8.3M608.1 764.9h8.3v8.3h-8.3zl8.3 8.3M608.1 773.2l8.3 -8.3M577 751.9h8.3v8.3h-8.3zl8.3 8.3M577 760.2l8.3 -8.3M540.5 741.6h8.3v8.3h-8.3zl8.3 8.3M540.5 749.9l8.3 -8.3M505.5 732.3h8.3v8.3h-8.3zl8.3 8.3M505.5 740.6l8.3 -8.3M483.5 726h8.3v8.3h-8.3zl8.3 8.3M483.5 734.3l8.3 -8.3M466.9 720.5h8.3v8.3h-8.3zl8.3 8.3M466.9 728.8l8.3 -8.3M452 716h8.3v8.3h-8.3zl8.3 8.3M452 724.3l8.3 -8.3M436.6 712.2h8.3v8.3h-8.3zl8.3 8.3M436.6 720.5l8.3 -8.3M429.2 709.3h8.3v8.3h-8.3zl8.3 8.3M429.2 717.6l8.3 -8.3M420.1 707h8.3v8.3h-8.3zl8.3 8.3M420.1 715.3l8.3 -8.3M414.6 705h8.3v8.3h-8.3zl8.3 8.3M414.6 713.3l8.3 -8.3M410.8 703.3h8.3v8.3h-8.3zl8.3 8.3M410.8 711.6l8.3 -8.3M410.5 701.8h8.3v8.3h-8.3zl8.3 8.3M410.5 710.1l8.3 -8.3M413.9 700.6h8.3v8.3h-8.3zl8.3 8.3M413.9 708.9l8.3 -8.3M418.4 699.5h8.3v8.3h-8.3zl8.3 8.3M418.4 707.8l8.3 -8.3M426.2 698.6h8.3v8.3h-8.3zl8.3 8.3M426.2 706.9l8.3 -8.3M432.7 697.7h8.3v8.3h-8.3zl8.3 8.3M432.7 706l8.3 -8.3M445 697.1h8.3v8.3h-8.3zl8.3 8.3M445 705.4l8.3 -8.3M458.1 696.5h8.3v8.3h-8.3zl8.3 8.3M458.1 704.8l8.3 -8.3M473.9 695.9h8.3v8.3h-8.3zl8.3 8.3M473.9 704.2l8.3 -8.3M489.9 695.5h8.3v8.3h-8.3zl8.3 8.3M489.9 703.8l8.3 -8.3M508.8 695.1h8.3v8.3h-8.3zl8.3 8.3M508.8 703.4l8.3 -8.3M530.5 694.8h8.3v8.3h-8.3zl8.3 8.3M530.5 703.1l8.3 -8.3M553.1 694.5h8.3v8.3h-8.3zl8.3 8.3M553.1 702.8l8.3 -8.3M573.7 694.2h8.3v8.3h-8.3zl8.3 8.3M573.7 702.5l8.3 -8.3M598.8 694.1h8.3v8.3h-8.3zl8.3 8.3M598.8 702.4l8.3 -8.3M620.9 694.1h8.3v8.3h-8.3zl8.3 8.3M620.9 702.4l8.3 -8.3M645.3 694h8.3v8.3h-8.3zl8.3 8.3M645.3 702.3l8.3 -8.3M668.1 694.1h8.3v8.3h-8.3zl8.3 8.3M668.1 702.4l8.3 -8.3M692.1 694.3h8.3v8.3h-8.3zl8.3 8.3M692.1 702.6l8.3 -8.3M712 694.4h8.3v8.3h-8.3zl8.3 8.3M712 702.7l8.3 -8.3M733.3 694.7h8.3v8.3h-8.3zl8.3 8.3M733.3 703l8.3 -8.3M747.7 694.9h8.3v8.3h-8.3zl8.3 8.3M747.7 703.2l8.3 -8.3M765 695.2h8.3v8.3h-8.3zl8.3 8.3M765 703.5l8.3 -8.3M777.8 695.4h8.3v8.3h-8.3zl8.3 8.3M777.8 703.7l8.3 -8.3M787.6 695.8h8.3v8.3h-8.3zl8.3 8.3M787.6 704.1l8.3 -8.3M798.8 696h8.3v8.3h-8.3zl8.3 8.3M798.8 704.3l8.3 -8.3M804.7 696.2h8.3v8.3h-8.3zl8.3 8.3M804.7 704.5l8.3 -8.3M811 696.5h8.3v8.3h-8.3zl8.3 8.3M811 704.8l8.3 -8.3M815.2 696.6h8.3v8.3h-8.3zl8.3 8.3M815.2 704.9l8.3 -8.3M821.6 696.8h8.3v8.3h-8.3zl8.3 8.3M821.6 705.1l8.3 -8.3M825.1 697h8.3v8.3h-8.3zl8.3 8.3M825.1 705.3l8.3 -8.3M826.3 697.1h8.3v8.3h-8.3zl8.3 8.3M826.3 705.4l8.3 -8.3M830.5 697.1h8.3v8.3h-8.3zl8.3 8.3M830.5 705.4l8.3 -8.3M831.2 697.3h8.3v8.3h-8.3zl8.3 8.3M831.2 705.6l8.3 -8.3M834 697.2h8.3v8.3h-8.3zl8.3 8.3M834 705.5l8.3 -8.3M838.1 697.2h8.3v8.3h-8.3zl8.3 8.3M838.1 705.5l8.3 -8.3M841.1 697.1h8.3v8.3h-8.3zl8.3 8.3M841.1 705.4l8.3 -8.3M844.9 697h8.3v8.3h-8.3zl8.3 8.3M844.9 705.3l8.3 -8.3M848.7 696.9h8.3v8.3h-8.3zl8.3 8.3M848.7 705.2l8.3 -8.3M853 696.8h8.3v8.3h-8.3zl8.3 8.3M853 705.1l8.3 -8.3M860.1 696.7h8.3v8.3h-8.3zl8.3 8.3M860.1 705l8.3 -8.3M865.4 696.4h8.3v8.3h-8.3zl8.3 8.3M865.4 704.7l8.3 -8.3M873.5 696.3h8.3v8.3h-8.3zl8.3 8.3M873.5 704.6l8.3 -8.3" stroke="#bebebe" stroke-width="2.7" fill="none"/>
<path d="M861.8 857.9l8.3 8.3M861.8 866.2l8.3 -8.3M860.1 862.1h11.7M865.9 856.2v11.7M725 827l8.3 8.3M725 835.3l8.3 -8.3M723.3 831.2h11.7M729.2 825.3v11.7M694.9 801.4l8.3 8.3M694.9 809.7l8.3 -8.3M693.2 805.6h11.7M699.1 799.7v11.7M636.7 780l8.3 8.3M636.7 788.3l8.3 -8.3M635 784.1h11.7M640.9 778.3v11.7M601.6 764.9l8.3 8.3M601.6 773.2l8.3 -8.3M599.9 769h11.7M605.7 763.1v11.7M575 751.9l8.3 8.3M575 760.2l8.3 -8.3M573.3 756h11.7M579.2 750.2v11.7M533.9 741.6l8.3 8.3M533.9 749.9l8.3 -8.3M532.2 745.7h11.7M538 739.9v11.7M501.6 732.3l8.3 8.3M501.6 740.6l8.3 -8.3M499.9 736.4h11.7M505.7 730.5v11.7M483.2 726l8.3 8.3M483.2 734.3l8.3 -8.3M481.5 730.2h11.7M487.4 724.3v11.7M465.9 720.5l8.3 8.3M465.9 728.8l8.3 -8.3M464.2 724.6h11.7M470 718.7v11.7M450.9 716l8.3 8.3M450.9 724.3l8.3 -8.3M449.2 720.1h11.7M455.1 714.2v11.7M435.5 712.2l8.3 8.3M435.5 720.5l8.3 -8.3M433.8 716.4h11.7M439.6 710.5v11.7M426.9 709.3l8.3 8.3M426.9 717.6l8.3 -8.3M425.1 713.5h11.7M431 707.6v11.7M417.7 707l8.3 8.3M417.7 715.3l8.3 -8.3M416 711.2h11.7M421.8 705.3v11.7M411.7 705l8.3 8.3M411.7 713.3l8.3 -8.3M410 709.1h11.7M415.9 703.3v11.7M409.2 703.3l8.3 8.3M409.2 711.6l8.3 -8.3M407.5 707.4h11.7M413.3 701.6v11.7M408.7 701.8l8.3 8.3M408.7 710.1l8.3 -8.3M406.9 705.9h11.7M412.8 700.1v11.7M410.3 700.7l8.3 8.3M410.3 709l8.3 -8.3M408.6 704.8h11.7M414.4 699v11.7M415.9 699.5l8.3 8.3M415.9 707.8l8.3 -8.3M414.2 703.7h11.7M420.1 697.8v11.7M423.7 698.6l8.3 8.3M423.7 706.9l8.3 -8.3M422 702.8h11.7M427.8 696.9v11.7M430.8 697.7l8.3 8.3M430.8 706l8.3 -8.3M429.1 701.9h11.7M435 696v11.7M442.6 697l8.3 8.3M442.6 705.3l8.3 -8.3M440.9 701.2h11.7M446.8 695.3v11.7M454 696.5l8.3 8.3M454 704.8l8.3 -8.3M452.3 700.6h11.7M458.1 694.8v11.7M470.7 695.9l8.3 8.3M470.7 704.2l8.3 -8.3M469 700.1h11.7M474.8 694.2v11.7M489.3 695.4l8.3 8.3M489.3 703.7l8.3 -8.3M487.6 699.6h11.7M493.5 693.7v11.7M507.8 695.1l8.3 8.3M507.8 703.4l8.3 -8.3M506.1 699.2h11.7M512 693.4v11.7M527.7 694.7l8.3 8.3M527.7 703l8.3 -8.3M526 698.9h11.7M531.9 693v11.7M548.8 694.4l8.3 8.3M548.8 702.7l8.3 -8.3M547 698.6h11.7M552.9 692.7v11.7M572.6 694.3l8.3 8.3M572.6 702.6l8.3 -8.3M570.9 698.5h11.7M576.8 692.6v11.7M595.7 694.1l8.3 8.3M595.7 702.4l8.3 -8.3M594 698.2h11.7M599.8 692.4v11.7M618.7 694.1l8.3 8.3M618.7 702.4l8.3 -8.3M617 698.2h11.7M622.8 692.3v11.7M642.1 694.1l8.3 8.3M642.1 702.4l8.3 -8.3M640.4 698.2h11.7M646.2 692.3v11.7M665.6 694.1l8.3 8.3M665.6 702.4l8.3 -8.3M663.9 698.3h11.7M669.8 692.4v11.7M688.8 694.3l8.3 8.3M688.8 702.6l8.3 -8.3M687 698.4h11.7M692.9 692.5v11.7M708.3 694.4l8.3 8.3M708.3 702.7l8.3 -8.3M706.6 698.6h11.7M712.4 692.7v11.7M730.3 694.7l8.3 8.3M730.3 703l8.3 -8.3M728.6 698.8h11.7M734.5 693v11.7M745.6 694.9l8.3 8.3M745.6 703.2l8.3 -8.3M743.9 699.1h11.7M749.8 693.2v11.7M761.8 695.1l8.3 8.3M761.8 703.4l8.3 -8.3M760.1 699.3h11.7M766 693.4v11.7M773.2 695.5l8.3 8.3M773.2 703.8l8.3 -8.3M771.5 699.6h11.7M777.4 693.8v11.7M784.8 695.7l8.3 8.3M784.8 704l8.3 -8.3M783.1 699.9h11.7M789 694v11.7M795.1 696.1l8.3 8.3M795.1 704.4l8.3 -8.3M793.4 700.2h11.7M799.3 694.3v11.7M801.6 696.3l8.3 8.3M801.6 704.6l8.3 -8.3M799.8 700.4h11.7M805.7 694.5v11.7M808.3 696.5l8.3 8.3M808.3 704.8l8.3 -8.3M806.6 700.6h11.7M812.4 694.8v11.7M813 696.6l8.3 8.3M813 704.9l8.3 -8.3M811.2 700.8h11.7M817.1 694.9v11.7M817.1 696.8l8.3 8.3M817.1 705.1l8.3 -8.3M815.4 701h11.7M821.3 695.1v11.7M820.7 697l8.3 8.3M820.7 705.3l8.3 -8.3M819 701.1h11.7M824.9 695.3v11.7M824.9 697l8.3 8.3M824.9 705.3l8.3 -8.3M823.2 701.2h11.7M829.1 695.3v11.7M826.2 697.2l8.3 8.3M826.2 705.5l8.3 -8.3M824.4 701.3h11.7M830.3 695.4v11.7M829.2 697.2l8.3 8.3M829.2 705.5l8.3 -8.3M827.5 701.4h11.7M833.3 695.5v11.7M829.9 697.1l8.3 8.3M829.9 705.4l8.3 -8.3M828.2 701.3h11.7M834 695.4v11.7M833.6 697.1l8.3 8.3M833.6 705.4l8.3 -8.3M831.9 701.3h11.7M837.8 695.4v11.7M836.6 697.1l8.3 8.3M836.6 705.4l8.3 -8.3M834.8 701.2h11.7M840.7 695.3v11.7M840.1 697l8.3 8.3M840.1 705.3l8.3 -8.3M838.4 701.2h11.7M844.2 695.3v11.7M842.9 696.9l8.3 8.3M842.9 705.2l8.3 -8.3M841.2 701h11.7M847.1 695.2v11.7M849.1 696.7l8.3 8.3M849.1 705l8.3 -8.3M847.3 700.9h11.7M853.2 695v11.7M853.1 696.6l8.3 8.3M853.1 704.9l8.3 -8.3M851.4 700.8h11.7M857.2 694.9v11.7M860 696.4l8.3 8.3M860 704.7l8.3 -8.3M858.3 700.6h11.7M864.2 694.7v11.7M866.9 696.3l8.3 8.3M866.9 704.6l8.3 -8.3M865.1 700.4h11.7M871 694.5v11.7" stroke="#bebebe" stroke-width="2.7" fill="none"/>
<path d="M850.4 862.1l5.9 -5.9l5.9 5.9l-5.9 5.9zh11.7M856.2 856.2v11.7M708.5 831.2l5.9 -5.9l5.9 5.9l-5.9 5.9zh11.7M714.4 825.3v11.7M680.4 805.6l5.9 -5.9l5.9 5.9l-5.9 5.9zh11.7M686.3 799.7v11.7M622 784.1l5.9 -5.9l5.9 5.9l-5.9 5.9zh11.7M627.8 778.3v11.7M591.8 769l5.9 -5.9l5.9 5.9l-5.9 5.9zh11.7M597.6 763.1v11.7M560.1 756l5.9 -5.9l5.9 5.9l-5.9 5.9zh11.7M565.9 750.2v11.7M523.6 745.7l5.9 -5.9l5.9 5.9l-5.9 5.9zh11.7M529.5 739.9v11.7M489.5 736.4l5.9 -5.9l5.9 5.9l-5.9 5.9zh11.7M495.4 730.5v11.7M470.3 730.2l5.9 -5.9l5.9 5.9l-5.9 5.9zh11.7M476.1 724.3v11.7M453.3 724.6l5.9 -5.9l5.9 5.9l-5.9 5.9zh11.7M459.2 718.7v11.7M435.8 720.1l5.9 -5.9l5.9 5.9l-5.9 5.9zh11.7M441.7 714.2v11.7M424 716.4l5.9 -5.9l5.9 5.9l-5.9 5.9zh11.7M429.8 710.5v11.7M411.6 713.5l5.9 -5.9l5.9 5.9l-5.9 5.9zh11.7M417.5 707.6v11.7M405.9 711.1l5.9 -5.9l5.9 5.9l-5.9 5.9zh11.7M411.7 705.3v11.7M399.2 709.2l5.9 -5.9l5.9 5.9l-5.9 5.9zh11.7M405.1 703.3v11.7M397.1 707.4l5.9 -5.9l5.9 5.9l-5.9 5.9zh11.7M403 701.5v11.7M395.4 706l5.9 -5.9l5.9 5.9l-5.9 5.9zh11.7M401.3 700.1v11.7M398.6 704.8l5.9 -5.9l5.9 5.9l-5.9 5.9zh11.7M404.4 699v11.7M403.7 703.7l5.9 -5.9l5.9 5.9l-5.9 5.9zh11.7M409.6 697.9v11.7M410.5 702.7l5.9 -5.9l5.9 5.9l-5.9 5.9zh11.7M416.3 696.9v11.7M419 701.9l5.9 -5.9l5.9 5.9l-5.9 5.9zh11.7M424.9 696.1v11.7M429.4 701.2l5.9 -5.9l5.9 5.9l-5.9 5.9zh11.7M435.3 695.3v11.7M442.8 700.6l5.9 -5.9l5.9 5.9l-5.9 5.9zh11.7M448.6 694.7v11.7M459.4 700l5.9 -5.9l5.9 5.9l-5.9 5.9zh11.7M465.3 694.2v11.7M474.9 699.6l5.9 -5.9l5.9 5.9l-5.9 5.9zh11.7M480.8 693.7v11.7M494.7 699.2l5.9 -5.9l5.9 5.9l-5.9 5.9zh11.7M500.6 693.4v11.7M515.5 698.8l5.9 -5.9l5.9 5.9l-5.9 5.9zh11.7M521.4 693v11.7M537.3 698.6l5.9 -5.9l5.9 5.9l-5.9 5.9zh11.7M543.2 692.8v11.7M559.5 698.4l5.9 -5.9l5.9 5.9l-5.9 5.9zh11.7M565.4 692.6v11.7M582.7 698.2l5.9 -5.9l5.9 5.9l-5.9 5.9zh11.7M588.5 692.4v11.7M606.3 698.2l5.9 -5.9l5.9 5.9l-5.9 5.9zh11.7M612.2 692.3v11.7M630.8 698.2l5.9 -5.9l5.9 5.9l-5.9 5.9zh11.7M636.7 692.4v11.7M654.2 698.3l5.9 -5.9l5.9 5.9l-5.9 5.9zh11.7M660.1 692.4v11.7M676.4 698.4l5.9 -5.9l5.9 5.9l-5.9 5.9zh11.7M682.3 692.5v11.7M696.8 698.6l5.9 -5.9l5.9 5.9l-5.9 5.9zh11.7M702.7 692.8v11.7M717.1 698.8l5.9 -5.9l5.9 5.9l-5.9 5.9zh11.7M722.9 693v11.7M734.2 699.1l5.9 -5.9l5.9 5.9l-5.9 5.9zh11.7M740.1 693.3v11.7M748.9 699.3l5.9 -5.9l5.9 5.9l-5.9 5.9zh11.7M754.7 693.4v11.7M761.7 699.6l5.9 -5.9l5.9 5.9l-5.9 5.9zh11.7M767.6 693.7v11.7M771 699.9l5.9 -5.9l5.9 5.9l-5.9 5.9zh11.7M776.9 694v11.7M781.4 700.2l5.9 -5.9l5.9 5.9l-5.9 5.9zh11.7M787.3 694.3v11.7M789.9 700.5l5.9 -5.9l5.9 5.9l-5.9 5.9zh11.7M795.8 694.6v11.7M795.6 700.6l5.9 -5.9l5.9 5.9l-5.9 5.9zh11.7M801.5 694.8v11.7M798.8 700.9l5.9 -5.9l5.9 5.9l-5.9 5.9zh11.7M804.7 695v11.7M804.8 701l5.9 -5.9l5.9 5.9l-5.9 5.9zh11.7M810.6 695.2v11.7M808.6 701.1l5.9 -5.9l5.9 5.9l-5.9 5.9zh11.7M814.5 695.3v11.7M811.4 701.2l5.9 -5.9l5.9 5.9l-5.9 5.9zh11.7M817.3 695.4v11.7M813.2 701.2l5.9 -5.9l5.9 5.9l-5.9 5.9zh11.7M819.1 695.4v11.7M814.6 701.4l5.9 -5.9l5.9 5.9l-5.9 5.9zh11.7M820.5 695.5v11.7M817.7 701.3l5.9 -5.9l5.9 5.9l-5.9 5.9zh11.7M823.6 695.4v11.7M819.2 701.3l5.9 -5.9l5.9 5.9l-5.9 5.9zh11.7M825.1 695.4v11.7M822.6 701.2l5.9 -5.9l5.9 5.9l-5.9 5.9zh11.7M828.5 695.3v11.7M827.4 701.1l5.9 -5.9l5.9 5.9l-5.9 5.9zh11.7M833.3 695.2v11.7M830.2 701l5.9 -5.9l5.9 5.9l-5.9 5.9zh11.7M836.1 695.1v11.7M835 700.9l5.9 -5.9l5.9 5.9l-5.9 5.9zh11.7M840.8 695v11.7M842 700.8l5.9 -5.9l5.9 5.9l-5.9 5.9zh11.7M847.8 694.9v11.7M849.2 700.6l5.9 -5.9l5.9 5.9l-5.9 5.9zh11.7M855.1 694.7v11.7M856.3 700.4l5.9 -5.9l5.9 5.9l-5.9 5.9zh11.7M862.2 694.5v11.7" stroke="#00ffff" stroke-width="2.2" fill="none"/>
<path d="M841.9 862.1a4.2 4.2 0 1 0 8.3 0a4.2 4.2 0 1 0 -8.3 0h8.3M846 857.9v8.3M700.7 831.2a4.2 4.2 0 1 0 8.3 0a4.2 4.2 0 1 0 -8.3 0h8.3M704.9 827v8.3M670.4 805.6a4.2 4.2 0 1 0 8.3 0a4.2 4.2 0 1 0 -8.3 0h8.3M674.5 801.4v8.3M614.6 784.1a4.2 4.2 0 1 0 8.3 0a4.2 4.2 0 1 0 -8.3 0h8.3M618.7 780v8.3M581.1 769a4.2 4.2 0 1 0 8.3 0a4.2 4.2 0 1 0 -8.3 0h8.3M585.2 764.9v8.3M551.8 756a4.2 4.2 0 1 0 8.3 0a4.2 4.2 0 1 0 -8.3 0h8.3M555.9 751.9v8.3M513.3 745.7a4.2 4.2 0 1 0 8.3 0a4.2 4.2 0 1 0 -8.3 0h8.3M517.4 741.6v8.3M479.4 736.4a4.2 4.2 0 1 0 8.3 0a4.2 4.2 0 1 0 -8.3 0h8.3M483.6 732.3v8.3M460.7 730.2a4.2 4.2 0 1 0 8.3 0a4.2 4.2 0 1 0 -8.3 0h8.3M464.9 726v8.3M444.1 724.6a4.2 4.2 0 1 0 8.3 0a4.2 4.2 0 1 0 -8.3 0h8.3M448.3 720.5v8.3M428.6 720.1a4.2 4.2 0 1 0 8.3 0a4.2 4.2 0 1 0 -8.3 0h8.3M432.7 716v8.3M414.8 716.4a4.2 4.2 0 1 0 8.3 0a4.2 4.2 0 1 0 -8.3 0h8.3M419 712.2v8.3M405.6 713.5a4.2 4.2 0 1 0 8.3 0a4.2 4.2 0 1 0 -8.3 0h8.3M409.8 709.3v8.3M398.6 711.1a4.2 4.2 0 1 0 8.3 0a4.2 4.2 0 1 0 -8.3 0h8.3M402.7 707v8.3M392.9 709.2a4.2 4.2 0 1 0 8.3 0a4.2 4.2 0 1 0 -8.3 0h8.3M397.1 705v8.3M389.4 707.4a4.2 4.2 0 1 0 8.3 0a4.2 4.2 0 1 0 -8.3 0h8.3M393.6 703.3v8.3M389.4 706a4.2 4.2 0 1 0 8.3 0a4.2 4.2 0 1 0 -8.3 0h8.3M393.6 701.8v8.3M390.8 704.8a4.2 4.2 0 1 0 8.3 0a4.2 4.2 0 1 0 -8.3 0h8.3M395 700.6v8.3M395.8 703.7a4.2 4.2 0 1 0 8.3 0a4.2 4.2 0 1 0 -8.3 0h8.3M399.9 699.5v8.3M403.2 702.7a4.2 4.2 0 1 0 8.3 0a4.2 4.2 0 1 0 -8.3 0h8.3M407.3 698.6v8.3M411.6 701.9a4.2 4.2 0 1 0 8.3 0a4.2 4.2 0 1 0 -8.3 0h8.3M415.8 697.7v8.3M422.6 701.2a4.2 4.2 0 1 0 8.3 0a4.2 4.2 0 1 0 -8.3 0h8.3M426.7 697.1v8.3M436 700.6a4.2 4.2 0 1 0 8.3 0a4.2 4.2 0 1 0 -8.3 0h8.3M440.1 696.5v8.3M452.6 700a4.2 4.2 0 1 0 8.3 0a4.2 4.2 0 1 0 -8.3 0h8.3M456.7 695.9v8.3M469.2 699.6a4.2 4.2 0 1 0 8.3 0a4.2 4.2 0 1 0 -8.3 0h8.3M473.3 695.4v8.3M487.9 699.2a4.2 4.2 0 1 0 8.3 0a4.2 4.2 0 1 0 -8.3 0h8.3M492 695.1v8.3M508 698.9a4.2 4.2 0 1 0 8.3 0a4.2 4.2 0 1 0 -8.3 0h8.3M512.1 694.7v8.3M530.6 698.6a4.2 4.2 0 1 0 8.3 0a4.2 4.2 0 1 0 -8.3 0h8.3M534.7 694.5v8.3M552.8 698.4a4.2 4.2 0 1 0 8.3 0a4.2 4.2 0 1 0 -8.3 0h8.3M557 694.3v8.3M576.8 698.2a4.2 4.2 0 1 0 8.3 0a4.2 4.2 0 1 0 -8.3 0h8.3M581 694.1v8.3M600.5 698.2a4.2 4.2 0 1 0 8.3 0a4.2 4.2 0 1 0 -8.3 0h8.3M604.6 694.1v8.3M623.8 698.2a4.2 4.2 0 1 0 8.3 0a4.2 4.2 0 1 0 -8.3 0h8.3M627.9 694.1v8.3M646.7 698.3a4.2 4.2 0 1 0 8.3 0a4.2 4.2 0 1 0 -8.3 0h8.3M650.9 694.1v8.3M668.6 698.4a4.2 4.2 0 1 0 8.3 0a4.2 4.2 0 1 0 -8.3 0h8.3M672.7 694.3v8.3M689.4 698.6a4.2 4.2 0 1 0 8.3 0a4.2 4.2 0 1 0 -8.3 0h8.3M693.6 694.5v8.3M709.5 698.9a4.2 4.2 0 1 0 8.3 0a4.2 4.2 0 1 0 -8.3 0h8.3M713.7 694.7v8.3M725.4 699.1a4.2 4.2 0 1 0 8.3 0a4.2 4.2 0 1 0 -8.3 0h8.3M729.6 695v8.3M740.2 699.4a4.2 4.2 0 1 0 8.3 0a4.2 4.2 0 1 0 -8.3 0h8.3M744.4 695.2v8.3M753.3 699.7a4.2 4.2 0 1 0 8.3 0a4.2 4.2 0 1 0 -8.3 0h8.3M757.4 695.5v8.3M763.9 700a4.2 4.2 0 1 0 8.3 0a4.2 4.2 0 1 0 -8.3 0h8.3M768 695.8v8.3M773.4 700.2a4.2 4.2 0 1 0 8.3 0a4.2 4.2 0 1 0 -8.3 0h8.3M777.6 696.1v8.3M780.8 700.5a4.2 4.2 0 1 0 8.3 0a4.2 4.2 0 1 0 -8.3 0h8.3M785 696.3v8.3M786.8 700.7a4.2 4.2 0 1 0 8.3 0a4.2 4.2 0 1 0 -8.3 0h8.3M790.9 696.5v8.3M791.8 700.9a4.2 4.2 0 1 0 8.3 0a4.2 4.2 0 1 0 -8.3 0h8.3M795.9 696.7v8.3M796.1 701a4.2 4.2 0 1 0 8.3 0a4.2 4.2 0 1 0 -8.3 0h8.3M800.2 696.9v8.3M799.6 701.1a4.2 4.2 0 1 0 8.3 0a4.2 4.2 0 1 0 -8.3 0h8.3M803.8 697v8.3M802.7 701.2a4.2 4.2 0 1 0 8.3 0a4.2 4.2 0 1 0 -8.3 0h8.3M806.8 697.1v8.3M805.3 701.2a4.2 4.2 0 1 0 8.3 0a4.2 4.2 0 1 0 -8.3 0h8.3M809.4 697.1v8.3M807.5 701.3a4.2 4.2 0 1 0 8.3 0a4.2 4.2 0 1 0 -8.3 0h8.3M811.6 697.1v8.3M809.7 701.3a4.2 4.2 0 1 0 8.3 0a4.2 4.2 0 1 0 -8.3 0h8.3M813.8 697.1v8.3M812.3 701.2a4.2 4.2 0 1 0 8.3 0a4.2 4.2 0 1 0 -8.3 0h8.3M816.4 697.1v8.3M815.3 701.2a4.2 4.2 0 1 0 8.3 0a4.2 4.2 0 1 0 -8.3 0h8.3M819.4 697.1v8.3M818.8 701.1a4.2 4.2 0 1 0 8.3 0a4.2 4.2 0 1 0 -8.3 0h8.3M822.9 697v8.3M822.9 701a4.2 4.2 0 1 0 8.3 0a4.2 4.2 0 1 0 -8.3 0h8.3M827.1 696.9v8.3M827.9 700.9a4.2 4.2 0 1 0 8.3 0a4.2 4.2 0 1 0 -8.3 0h8.3M832 696.7v8.3M833.7 700.8a4.2 4.2 0 1 0 8.3 0a4.2 4.2 0 1 0 -8.3 0h8.3M837.8 696.6v8.3M840.5 700.6a4.2 4.2 0 1 0 8.3 0a4.2 4.2 0 1 0 -8.3 0h8.3M844.6 696.4v8.3M848.5 700.4a4.2 4.2 0 1 0 8.3 0a4.2 4.2 0 1 0 -8.3 0h8.3M852.7 696.2v8.3" stroke="#a020f0" stroke-width="2.2" fill="none"/>
<rect x="221.3" y="633" width="773.5" height="352.8" fill="none" stroke="#333" stroke-width="1.6"/>
<path d="M254.7 985.8v9.8M431.2 985.8v9.8M607.7 985.8v9.8M784.1 985.8v9.8M960.6 985.8v9.8" stroke="#333" stroke-width="2.8" fill="none"/>
<path d="M221.3 648.6h-9.4M221.3 702.2h-9.4M221.3 755.8h-9.4M221.3 809.4h-9.4M221.3 863h-9.4M221.3 916.7h-9.4M221.3 970.3h-9.4" stroke="#333" stroke-width="2.3" fill="none"/>
<text><tspan x="219.7" y="608.5" font-size="33.5" textLength="69.8" lengthAdjust="spacingAndGlyphs">Cell </tspan><tspan x="287" y="608.5" font-size="33.5" textLength="180.7" lengthAdjust="spacingAndGlyphs">connected </tspan><tspan x="468.7" y="608.5" font-size="33.5" textLength="79.7" lengthAdjust="spacingAndGlyphs">with </tspan><tspan x="548.7" y="608.5" font-size="33.5" textLength="124.3" lengthAdjust="spacingAndGlyphs">welded </tspan><tspan x="674.2" y="608.5" font-size="33.5" textLength="67.3" lengthAdjust="spacingAndGlyphs">tabs</tspan></text>
<text x="174.5" y="657" font-size="25.8" textLength="30.7" lengthAdjust="spacingAndGlyphs">50</text>
<text x="189.8" y="710.6" font-size="25.8" textLength="15.4" lengthAdjust="spacingAndGlyphs">0</text>
<text x="165.3" y="764.2" font-size="25.8" textLength="39.9" lengthAdjust="spacingAndGlyphs">-50</text>
<text x="150" y="817.8" font-size="25.8" textLength="55.3" lengthAdjust="spacingAndGlyphs">-100</text>
<text x="150" y="871.4" font-size="25.8" textLength="55.3" lengthAdjust="spacingAndGlyphs">-150</text>
<text x="150" y="925.1" font-size="25.8" textLength="55.3" lengthAdjust="spacingAndGlyphs">-200</text>
<text x="150" y="978.7" font-size="25.8" textLength="55.3" lengthAdjust="spacingAndGlyphs">-250</text>
<text x="240.7" y="1021.3" font-size="26.2" textLength="29.1" lengthAdjust="spacingAndGlyphs">25</text>
<text x="417.3" y="1021.3" font-size="26.2" textLength="29.1" lengthAdjust="spacingAndGlyphs">30</text>
<text x="593.8" y="1021.3" font-size="26.2" textLength="29.1" lengthAdjust="spacingAndGlyphs">35</text>
<text x="770.5" y="1021.3" font-size="26.2" textLength="29.1" lengthAdjust="spacingAndGlyphs">40</text>
<text x="947" y="1021.3" font-size="26.2" textLength="29.1" lengthAdjust="spacingAndGlyphs">45</text>
<text><tspan x="450.6" y="1058.8" font-size="23.5" textLength="58.2" lengthAdjust="spacingAndGlyphs">Real </tspan><tspan x="509.7" y="1058.8" font-size="23.5" textLength="152.8" lengthAdjust="spacingAndGlyphs">Impedance, </tspan><tspan x="659.7" y="1058.8" font-size="23.5" textLength="16" lengthAdjust="spacingAndGlyphs">Z</tspan><tspan x="674.5" y="1064.2" font-size="16" textLength="21.1" lengthAdjust="spacingAndGlyphs">Re</tspan><tspan x="696.6" y="1058.6" font-size="33.5" textLength="10.2" lengthAdjust="spacingAndGlyphs">(</tspan><tspan x="707.7" y="1058.8" font-size="24" textLength="46.1" lengthAdjust="spacingAndGlyphs">mΩ</tspan><tspan x="755.5" y="1058.6" font-size="33.5" textLength="9.8" lengthAdjust="spacingAndGlyphs">)</tspan></text>
<text transform="rotate(-90)"><tspan x="-1013.8" y="130.8" font-size="26.5" textLength="17.2" lengthAdjust="spacingAndGlyphs">- </tspan><tspan x="-999.9" y="130.8" font-size="26.5" textLength="129.4" lengthAdjust="spacingAndGlyphs">Imaginary </tspan><tspan x="-869.9" y="130.8" font-size="26.5" textLength="149.3" lengthAdjust="spacingAndGlyphs">Impedance, </tspan><tspan x="-719.5" y="130.8" font-size="26.5" textLength="8.7" lengthAdjust="spacingAndGlyphs">-</tspan><tspan x="-709.3" y="130.8" font-size="26.5" textLength="12.4" lengthAdjust="spacingAndGlyphs">Z</tspan><tspan x="-696.4" y="136" font-size="17" textLength="20.7" lengthAdjust="spacingAndGlyphs">Im</tspan><tspan x="-673.5" y="130.3" font-size="34" textLength="10.4" lengthAdjust="spacingAndGlyphs">(</tspan><tspan x="-662" y="130.8" font-size="27" textLength="45.9" lengthAdjust="spacingAndGlyphs">mΩ</tspan><tspan x="-615.5" y="130.3" font-size="34" textLength="9.4" lengthAdjust="spacingAndGlyphs">)</tspan></text>
<text x="0.3" y="1086.4" font-size="38.5" class="serif">(b)</text>
</g>
</svg></body></html>
